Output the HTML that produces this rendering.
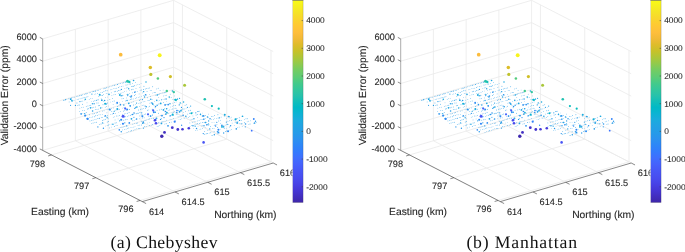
<!DOCTYPE html>
<html><head><meta charset="utf-8"><title>Validation Error</title>
<style>
html,body{margin:0;padding:0;background:#fff;}
body{width:685px;height:252px;overflow:hidden;}
svg{display:block;font-family:"Liberation Sans",sans-serif;text-rendering:geometricPrecision;}
</style></head><body>
<svg width="685" height="252" viewBox="0 0 685 252">
<rect width="685" height="252" fill="#fff"/>
<defs><linearGradient id="cb" x1="0" y1="0" x2="0" y2="1"><stop offset="0" stop-color="#f9fb15"/><stop offset="0.03" stop-color="#f6ef20"/><stop offset="0.06" stop-color="#f5e327"/><stop offset="0.09" stop-color="#f9d62d"/><stop offset="0.12" stop-color="#feca33"/><stop offset="0.16" stop-color="#febe3c"/><stop offset="0.19" stop-color="#f1ba37"/><stop offset="0.22" stop-color="#debc2a"/><stop offset="0.25" stop-color="#c8c129"/><stop offset="0.28" stop-color="#afc637"/><stop offset="0.31" stop-color="#94ca4a"/><stop offset="0.34" stop-color="#77cc60"/><stop offset="0.38" stop-color="#5ccc76"/><stop offset="0.41" stop-color="#44ca8a"/><stop offset="0.44" stop-color="#34c79c"/><stop offset="0.47" stop-color="#28c2ab"/><stop offset="0.5" stop-color="#12beb9"/><stop offset="0.53" stop-color="#01b9c6"/><stop offset="0.56" stop-color="#0cb3d3"/><stop offset="0.59" stop-color="#1aacdd"/><stop offset="0.62" stop-color="#21a3e3"/><stop offset="0.66" stop-color="#269ae9"/><stop offset="0.69" stop-color="#2c90f0"/><stop offset="0.72" stop-color="#2e85f8"/><stop offset="0.75" stop-color="#347afd"/><stop offset="0.78" stop-color="#3f6efe"/><stop offset="0.81" stop-color="#4562fc"/><stop offset="0.84" stop-color="#4757f7"/><stop offset="0.88" stop-color="#484cef"/><stop offset="0.91" stop-color="#4741e5"/><stop offset="0.94" stop-color="#4536d5"/><stop offset="0.97" stop-color="#422ebf"/><stop offset="1" stop-color="#3e26a8"/></linearGradient></defs>
<g transform="translate(0,0)">
<g><line x1="142.3" y1="201.6" x2="42.7" y2="150.4" stroke="#eaeaea" stroke-width="0.8"/><line x1="175.03" y1="191.95" x2="75.42" y2="140.75" stroke="#eaeaea" stroke-width="0.8"/><line x1="207.75" y1="182.3" x2="108.15" y2="131.1" stroke="#eaeaea" stroke-width="0.8"/><line x1="240.47" y1="172.65" x2="140.88" y2="121.45" stroke="#eaeaea" stroke-width="0.8"/><line x1="273.2" y1="163" x2="173.6" y2="111.8" stroke="#eaeaea" stroke-width="0.8"/><line x1="140.09" y1="200.46" x2="270.99" y2="161.86" stroke="#eaeaea" stroke-width="0.8"/><line x1="95.82" y1="177.71" x2="226.72" y2="139.11" stroke="#eaeaea" stroke-width="0.8"/><line x1="51.55" y1="154.95" x2="182.45" y2="116.35" stroke="#eaeaea" stroke-width="0.8"/><line x1="75.42" y1="140.75" x2="75.42" y2="29.25" stroke="#eaeaea" stroke-width="0.8"/><line x1="108.15" y1="131.1" x2="108.15" y2="19.6" stroke="#eaeaea" stroke-width="0.8"/><line x1="140.88" y1="121.45" x2="140.88" y2="9.95" stroke="#eaeaea" stroke-width="0.8"/><line x1="173.6" y1="111.8" x2="173.6" y2="0.3" stroke="#eaeaea" stroke-width="0.8"/><line x1="42.7" y1="150.4" x2="173.6" y2="111.8" stroke="#eaeaea" stroke-width="0.8"/><line x1="42.7" y1="128.1" x2="173.6" y2="89.5" stroke="#eaeaea" stroke-width="0.8"/><line x1="42.7" y1="105.8" x2="173.6" y2="67.2" stroke="#eaeaea" stroke-width="0.8"/><line x1="42.7" y1="83.5" x2="173.6" y2="44.9" stroke="#eaeaea" stroke-width="0.8"/><line x1="42.7" y1="61.2" x2="173.6" y2="22.6" stroke="#eaeaea" stroke-width="0.8"/><line x1="42.7" y1="38.9" x2="173.6" y2="0.3" stroke="#eaeaea" stroke-width="0.8"/><line x1="270.99" y1="161.86" x2="270.99" y2="50.36" stroke="#eaeaea" stroke-width="0.8"/><line x1="226.72" y1="139.11" x2="226.72" y2="27.61" stroke="#eaeaea" stroke-width="0.8"/><line x1="182.45" y1="116.35" x2="182.45" y2="4.85" stroke="#eaeaea" stroke-width="0.8"/><line x1="273.2" y1="163" x2="173.6" y2="111.8" stroke="#eaeaea" stroke-width="0.8"/><line x1="273.2" y1="140.7" x2="173.6" y2="89.5" stroke="#eaeaea" stroke-width="0.8"/><line x1="273.2" y1="118.4" x2="173.6" y2="67.2" stroke="#eaeaea" stroke-width="0.8"/><line x1="273.2" y1="96.1" x2="173.6" y2="44.9" stroke="#eaeaea" stroke-width="0.8"/><line x1="273.2" y1="73.8" x2="173.6" y2="22.6" stroke="#eaeaea" stroke-width="0.8"/><line x1="273.2" y1="51.5" x2="173.6" y2="0.3" stroke="#eaeaea" stroke-width="0.8"/></g>
<g><line x1="42.7" y1="150.4" x2="42.7" y2="38.9" stroke="#3a3a3a" stroke-width="0.42"/><line x1="42.7" y1="150.4" x2="142.3" y2="201.6" stroke="#3a3a3a" stroke-width="0.6"/><line x1="142.3" y1="201.6" x2="273.2" y2="163" stroke="#3a3a3a" stroke-width="0.6"/><line x1="42.7" y1="150.4" x2="39.82" y2="148.92" stroke="#3a3a3a" stroke-width="0.6"/><line x1="42.7" y1="128.1" x2="39.82" y2="126.62" stroke="#3a3a3a" stroke-width="0.6"/><line x1="42.7" y1="105.8" x2="39.82" y2="104.32" stroke="#3a3a3a" stroke-width="0.6"/><line x1="42.7" y1="83.5" x2="39.82" y2="82.02" stroke="#3a3a3a" stroke-width="0.6"/><line x1="42.7" y1="61.2" x2="39.82" y2="59.72" stroke="#3a3a3a" stroke-width="0.6"/><line x1="42.7" y1="38.9" x2="39.82" y2="37.42" stroke="#3a3a3a" stroke-width="0.6"/><line x1="140.09" y1="200.46" x2="136.63" y2="201.48" stroke="#3a3a3a" stroke-width="0.6"/><line x1="95.82" y1="177.71" x2="92.37" y2="178.72" stroke="#3a3a3a" stroke-width="0.6"/><line x1="51.55" y1="154.95" x2="48.1" y2="155.97" stroke="#3a3a3a" stroke-width="0.6"/><line x1="142.3" y1="201.6" x2="146.14" y2="203.58" stroke="#3a3a3a" stroke-width="0.6"/><line x1="175.03" y1="191.95" x2="178.87" y2="193.93" stroke="#3a3a3a" stroke-width="0.6"/><line x1="207.75" y1="182.3" x2="211.59" y2="184.28" stroke="#3a3a3a" stroke-width="0.6"/><line x1="240.47" y1="172.65" x2="244.32" y2="174.63" stroke="#3a3a3a" stroke-width="0.6"/><line x1="273.2" y1="163" x2="277.04" y2="164.98" stroke="#3a3a3a" stroke-width="0.6"/></g>
<g><circle cx="63.83" cy="100.25" r="0.54" fill="#259de7"/><circle cx="65.42" cy="99.63" r="0.54" fill="#249de6"/><circle cx="66.88" cy="99.41" r="0.36" fill="#259de7"/><circle cx="68.4" cy="98.87" r="0.37" fill="#259de7"/><circle cx="69.99" cy="98.59" r="0.34" fill="#259ce7"/><circle cx="71.45" cy="97.92" r="0.48" fill="#249de6"/><circle cx="73" cy="97.71" r="0.4" fill="#259ce7"/><circle cx="74.64" cy="97.17" r="0.38" fill="#259ce7"/><circle cx="76.24" cy="96.47" r="0.39" fill="#249de6"/><circle cx="77.93" cy="96.28" r="0.42" fill="#259ce7"/><circle cx="79.57" cy="95.68" r="0.48" fill="#259de7"/><circle cx="81.21" cy="95.16" r="0.52" fill="#259de7"/><circle cx="82.73" cy="94.86" r="0.43" fill="#259ce7"/><circle cx="84.39" cy="94.32" r="0.43" fill="#259ce7"/><circle cx="86.01" cy="93.8" r="0.55" fill="#259ce7"/><circle cx="87.66" cy="93.44" r="0.41" fill="#259ce7"/><circle cx="89.28" cy="92.86" r="0.36" fill="#259ce7"/><circle cx="90.73" cy="92.33" r="0.36" fill="#259de7"/><circle cx="92.24" cy="91.87" r="0.43" fill="#259de7"/><circle cx="93.82" cy="91.48" r="0.51" fill="#259de7"/><circle cx="95.49" cy="91.06" r="0.52" fill="#259ce7"/><circle cx="97.18" cy="90.39" r="0.37" fill="#259de7"/><circle cx="98.68" cy="90.19" r="0.39" fill="#259ce7"/><circle cx="100.12" cy="89.57" r="0.41" fill="#259de7"/><circle cx="103.33" cy="88.79" r="0.34" fill="#259ce7"/><circle cx="105" cy="88.28" r="0.52" fill="#259ce7"/><circle cx="106.65" cy="87.71" r="0.47" fill="#259ce7"/><circle cx="108.11" cy="87.19" r="0.38" fill="#259de7"/><circle cx="109.59" cy="86.79" r="0.36" fill="#259de7"/><circle cx="111.06" cy="86.36" r="0.34" fill="#259de7"/><circle cx="112.72" cy="85.81" r="0.41" fill="#259de7"/><circle cx="114.26" cy="85.33" r="0.52" fill="#259de7"/><circle cx="115.96" cy="84.97" r="0.35" fill="#259ce7"/><circle cx="117.49" cy="84.46" r="0.51" fill="#259de7"/><circle cx="118.97" cy="83.87" r="0.36" fill="#249de6"/><circle cx="120.55" cy="83.61" r="0.45" fill="#259ce7"/><circle cx="122.25" cy="83.09" r="0.41" fill="#259de7"/><circle cx="123.73" cy="82.72" r="0.45" fill="#259ce7"/><circle cx="125.38" cy="82.1" r="0.55" fill="#259de7"/><circle cx="127.04" cy="81.4" r="0.51" fill="#249ee6"/><circle cx="128.67" cy="81.29" r="0.34" fill="#259ce7"/><circle cx="69.14" cy="101.88" r="0.41" fill="#259de7"/><circle cx="70.69" cy="99.2" r="0.88" fill="#20a5e3"/><circle cx="72.29" cy="101.07" r="0.35" fill="#259ce7"/><circle cx="73.99" cy="100.45" r="0.39" fill="#249de6"/><circle cx="77.14" cy="99.67" r="0.4" fill="#259ce7"/><circle cx="78.44" cy="99.11" r="0.39" fill="#259de7"/><circle cx="80.08" cy="98.87" r="0.41" fill="#259ce7"/><circle cx="81.97" cy="98.24" r="0.4" fill="#259ce7"/><circle cx="83.14" cy="97.85" r="0.42" fill="#259ce7"/><circle cx="84.94" cy="97.43" r="0.49" fill="#259ce7"/><circle cx="86.89" cy="96.99" r="0.41" fill="#259ce7"/><circle cx="87.97" cy="96.28" r="0.35" fill="#259ce7"/><circle cx="91.89" cy="94.06" r="0.62" fill="#22a2e4"/><circle cx="94.32" cy="94.23" r="0.33" fill="#249ee6"/><circle cx="95.78" cy="93.95" r="0.36" fill="#259de7"/><circle cx="97.4" cy="93.42" r="0.42" fill="#249de6"/><circle cx="100.93" cy="92.47" r="0.35" fill="#259de7"/><circle cx="102.39" cy="92.37" r="0.46" fill="#259ce7"/><circle cx="103.96" cy="91.5" r="0.44" fill="#259de7"/><circle cx="105.68" cy="90.75" r="0.43" fill="#249ee6"/><circle cx="107.08" cy="90.72" r="0.47" fill="#259ce7"/><circle cx="110.28" cy="89.84" r="0.32" fill="#259ce7"/><circle cx="111.89" cy="89.28" r="0.36" fill="#259de7"/><circle cx="113.26" cy="88.76" r="0.35" fill="#259de7"/><circle cx="115.04" cy="88.33" r="0.39" fill="#259de7"/><circle cx="116.76" cy="88.23" r="0.38" fill="#259ce7"/><circle cx="118.39" cy="87.46" r="0.47" fill="#259de7"/><circle cx="119.89" cy="86.83" r="0.31" fill="#259de7"/><circle cx="121.57" cy="86.61" r="0.47" fill="#259ce7"/><circle cx="123.06" cy="86.07" r="0.33" fill="#259ce7"/><circle cx="126.01" cy="85" r="0.49" fill="#259de7"/><circle cx="127.61" cy="84.82" r="0.34" fill="#259ce7"/><circle cx="129.1" cy="84.19" r="0.38" fill="#259de7"/><circle cx="130.6" cy="83.98" r="0.45" fill="#259ce7"/><circle cx="132.35" cy="83.44" r="0.37" fill="#259ce7"/><circle cx="133.58" cy="80.47" r="0.82" fill="#1fa5e2"/><circle cx="135.64" cy="82.66" r="0.4" fill="#259ce7"/><circle cx="70.58" cy="105.33" r="0.56" fill="#269ae8"/><circle cx="71.93" cy="100.7" r="0.85" fill="#1ca9e0"/><circle cx="76.96" cy="103.05" r="0.49" fill="#259ce7"/><circle cx="79.95" cy="101.56" r="0.67" fill="#249ee6"/><circle cx="81.26" cy="101.2" r="0.35" fill="#249de6"/><circle cx="82.79" cy="101.09" r="0.4" fill="#259ce7"/><circle cx="84.63" cy="100.57" r="0.3" fill="#259ce7"/><circle cx="89.19" cy="99.41" r="0.38" fill="#259ce7"/><circle cx="90.55" cy="98.69" r="0.32" fill="#259de7"/><circle cx="92.15" cy="98.35" r="0.35" fill="#259ce7"/><circle cx="98.83" cy="96.39" r="0.45" fill="#259de7"/><circle cx="100.42" cy="95.73" r="0.31" fill="#259de7"/><circle cx="102.12" cy="95.38" r="0.5" fill="#259ce7"/><circle cx="103.42" cy="94.65" r="0.38" fill="#249ee6"/><circle cx="106.21" cy="93.63" r="0.39" fill="#249ee6"/><circle cx="107.89" cy="93.46" r="0.32" fill="#259de7"/><circle cx="111.28" cy="92.77" r="0.38" fill="#259ce7"/><circle cx="114.27" cy="91.7" r="0.43" fill="#259de7"/><circle cx="115.65" cy="91.36" r="0.49" fill="#259ce7"/><circle cx="117.3" cy="91.13" r="0.44" fill="#259ce7"/><circle cx="118.75" cy="90.55" r="0.47" fill="#259ce7"/><circle cx="120.04" cy="90.36" r="0.33" fill="#259be7"/><circle cx="121.39" cy="89.44" r="0.67" fill="#259ce7"/><circle cx="124.89" cy="88.41" r="0.33" fill="#259de7"/><circle cx="126.75" cy="87.9" r="0.42" fill="#249de6"/><circle cx="127.86" cy="87.59" r="0.36" fill="#259de7"/><circle cx="131.75" cy="86.56" r="0.44" fill="#259de7"/><circle cx="133.1" cy="86.27" r="0.59" fill="#249de6"/><circle cx="134.54" cy="85.78" r="0.44" fill="#259ce7"/><circle cx="136.23" cy="84.98" r="0.34" fill="#249ee6"/><circle cx="137.88" cy="84.62" r="0.36" fill="#259de7"/><circle cx="139.28" cy="84.54" r="0.38" fill="#259ce7"/><circle cx="141.05" cy="83.7" r="0.33" fill="#249de7"/><circle cx="75.45" cy="105.43" r="0.63" fill="#249fe6"/><circle cx="77.3" cy="105.67" r="0.36" fill="#259de7"/><circle cx="79.07" cy="104.9" r="0.52" fill="#249de6"/><circle cx="82.47" cy="104.35" r="0.49" fill="#259ce7"/><circle cx="85.29" cy="99.34" r="0.81" fill="#1baade"/><circle cx="87" cy="102.82" r="0.31" fill="#259de7"/><circle cx="91.71" cy="101.48" r="0.32" fill="#259de7"/><circle cx="93.57" cy="101.16" r="0.43" fill="#259ce7"/><circle cx="94.93" cy="100.78" r="0.47" fill="#259ce7"/><circle cx="96.6" cy="100.24" r="0.56" fill="#259ce7"/><circle cx="98.06" cy="99.78" r="0.5" fill="#259ce7"/><circle cx="99.72" cy="94.73" r="0.98" fill="#1aacdd"/><circle cx="101.16" cy="98.84" r="0.32" fill="#259ce7"/><circle cx="105.73" cy="97.4" r="0.32" fill="#259de7"/><circle cx="107.4" cy="96.96" r="0.33" fill="#259ce7"/><circle cx="108.98" cy="94.43" r="0.81" fill="#21a4e3"/><circle cx="111.91" cy="95.38" r="0.32" fill="#249de6"/><circle cx="113.9" cy="94.86" r="0.38" fill="#249de6"/><circle cx="115.25" cy="94.39" r="0.41" fill="#249de6"/><circle cx="118.44" cy="93.59" r="0.3" fill="#259de7"/><circle cx="120.17" cy="93.21" r="0.48" fill="#259ce7"/><circle cx="121.54" cy="92.99" r="0.32" fill="#259ce7"/><circle cx="123.01" cy="92.41" r="0.36" fill="#259ce7"/><circle cx="124.28" cy="91.66" r="0.34" fill="#249de6"/><circle cx="126.6" cy="90.99" r="0.31" fill="#249ee6"/><circle cx="128.69" cy="88.77" r="0.68" fill="#20a4e3"/><circle cx="129.58" cy="90.13" r="0.34" fill="#249de6"/><circle cx="131.42" cy="89.72" r="0.48" fill="#259de7"/><circle cx="133" cy="89.22" r="0.47" fill="#259de7"/><circle cx="134.77" cy="92.21" r="0.81" fill="#2c90f0"/><circle cx="135.99" cy="88.6" r="0.42" fill="#259ce7"/><circle cx="139.34" cy="87.57" r="0.33" fill="#259ce7"/><circle cx="140.84" cy="87.02" r="0.31" fill="#259de7"/><circle cx="143.94" cy="86.18" r="0.49" fill="#259ce7"/><circle cx="146" cy="82.04" r="0.75" fill="#1ca9df"/><circle cx="79.83" cy="108.16" r="0.34" fill="#259de7"/><circle cx="81.81" cy="107.65" r="0.43" fill="#259ce7"/><circle cx="83.31" cy="107.16" r="0.33" fill="#259de7"/><circle cx="86.29" cy="106.38" r="0.43" fill="#259ce7"/><circle cx="87.94" cy="105.89" r="0.42" fill="#259ce7"/><circle cx="89.54" cy="105.39" r="0.33" fill="#259ce7"/><circle cx="90.76" cy="105.2" r="0.46" fill="#259ce7"/><circle cx="92.37" cy="103.77" r="0.65" fill="#23a0e5"/><circle cx="94.1" cy="103.75" r="0.68" fill="#249ee6"/><circle cx="96.94" cy="103.03" r="0.49" fill="#259de7"/><circle cx="98.37" cy="102.91" r="0.33" fill="#259ce7"/><circle cx="101.82" cy="100.17" r="0.85" fill="#21a3e3"/><circle cx="103.24" cy="101.19" r="0.35" fill="#259de7"/><circle cx="104.65" cy="100.45" r="0.73" fill="#249de6"/><circle cx="107.75" cy="100.18" r="0.34" fill="#259ce7"/><circle cx="109.79" cy="99.4" r="0.45" fill="#259de7"/><circle cx="112.61" cy="98.42" r="0.44" fill="#249de6"/><circle cx="117.15" cy="102.77" r="0.92" fill="#2e86f8"/><circle cx="120.44" cy="95.91" r="0.37" fill="#249ee6"/><circle cx="121.77" cy="95.71" r="0.72" fill="#249de6"/><circle cx="122.92" cy="95.21" r="0.48" fill="#249de6"/><circle cx="126.67" cy="94.2" r="0.32" fill="#249de6"/><circle cx="127.74" cy="95.61" r="0.63" fill="#2896eb"/><circle cx="129.69" cy="93.31" r="0.38" fill="#249de6"/><circle cx="131.43" cy="96.02" r="0.83" fill="#2b90ef"/><circle cx="132.66" cy="92.83" r="0.39" fill="#259ce7"/><circle cx="134.42" cy="91.99" r="0.32" fill="#259de7"/><circle cx="135.64" cy="91.8" r="0.45" fill="#259ce7"/><circle cx="137.21" cy="91.3" r="0.4" fill="#259de7"/><circle cx="140.15" cy="90.14" r="0.44" fill="#249ee6"/><circle cx="141.69" cy="89.92" r="0.46" fill="#259de7"/><circle cx="143.51" cy="89.42" r="0.48" fill="#259ce7"/><circle cx="145.23" cy="89.02" r="0.4" fill="#259de7"/><circle cx="146.47" cy="88.42" r="0.41" fill="#249de6"/><circle cx="148.07" cy="88.15" r="0.47" fill="#259de7"/><circle cx="149.37" cy="87.9" r="0.45" fill="#259ce7"/><circle cx="152.64" cy="86.76" r="0.47" fill="#259ce7"/><circle cx="79.73" cy="111.42" r="0.35" fill="#259de7"/><circle cx="81.08" cy="113.9" r="0.8" fill="#2b92ee"/><circle cx="82.78" cy="110.35" r="0.46" fill="#249de6"/><circle cx="84.35" cy="110.27" r="0.38" fill="#259ce7"/><circle cx="85.13" cy="115.35" r="0.93" fill="#2e86f7"/><circle cx="87.38" cy="108.98" r="0.49" fill="#249de6"/><circle cx="88.56" cy="108.77" r="0.44" fill="#259de7"/><circle cx="90.6" cy="108.5" r="0.34" fill="#259be7"/><circle cx="91.98" cy="107.86" r="0.5" fill="#259ce7"/><circle cx="93.58" cy="107.13" r="0.38" fill="#249de6"/><circle cx="95.24" cy="106.95" r="0.45" fill="#259ce7"/><circle cx="98.32" cy="105.74" r="0.46" fill="#249de6"/><circle cx="99.47" cy="105.58" r="0.49" fill="#259ce7"/><circle cx="102.98" cy="104.66" r="0.47" fill="#259ce7"/><circle cx="104.31" cy="103.84" r="0.35" fill="#249ee6"/><circle cx="106.24" cy="103.98" r="0.66" fill="#259ce7"/><circle cx="107.51" cy="103.08" r="0.49" fill="#249de7"/><circle cx="110.38" cy="102.03" r="0.3" fill="#249de7"/><circle cx="112.38" cy="101.66" r="0.32" fill="#259de7"/><circle cx="114.16" cy="100.93" r="0.46" fill="#249de6"/><circle cx="119.85" cy="95.05" r="0.97" fill="#1aacdd"/><circle cx="121.93" cy="98.82" r="0.4" fill="#259de7"/><circle cx="123.22" cy="98.5" r="0.4" fill="#259de7"/><circle cx="126.42" cy="97.9" r="0.37" fill="#259ce7"/><circle cx="127.84" cy="94.45" r="0.67" fill="#1ea7e1"/><circle cx="129.54" cy="96.46" r="0.4" fill="#249de6"/><circle cx="130.91" cy="96.88" r="0.8" fill="#269ae9"/><circle cx="134.4" cy="95.44" r="0.47" fill="#259ce7"/><circle cx="135.48" cy="94.64" r="0.35" fill="#249ee6"/><circle cx="139.12" cy="93.9" r="0.43" fill="#259ce7"/><circle cx="142.26" cy="92.96" r="0.36" fill="#259de7"/><circle cx="143.62" cy="91.63" r="0.74" fill="#23a0e5"/><circle cx="145.54" cy="94.83" r="0.72" fill="#2a92ee"/><circle cx="147.04" cy="91.4" r="0.45" fill="#259de7"/><circle cx="150.17" cy="90.63" r="0.35" fill="#259ce7"/><circle cx="151.61" cy="90.4" r="0.31" fill="#259ce7"/><circle cx="156.3" cy="88.88" r="0.38" fill="#259de7"/><circle cx="158.16" cy="88.28" r="0.43" fill="#259ce7"/><circle cx="81.33" cy="113.94" r="0.47" fill="#259de7"/><circle cx="82.96" cy="113.75" r="0.33" fill="#259ce7"/><circle cx="85.04" cy="115.94" r="0.77" fill="#2a92ee"/><circle cx="86.26" cy="112.63" r="0.49" fill="#259de7"/><circle cx="87.65" cy="118.93" r="1.12" fill="#2f82fa"/><circle cx="90.43" cy="107.87" r="0.77" fill="#1da9e0"/><circle cx="92.6" cy="110.95" r="0.78" fill="#259ce7"/><circle cx="95.31" cy="109.68" r="0.44" fill="#249de6"/><circle cx="96.96" cy="109.38" r="0.46" fill="#259ce7"/><circle cx="98.58" cy="109.11" r="0.39" fill="#259ce7"/><circle cx="101.99" cy="107.87" r="0.46" fill="#249de7"/><circle cx="105.19" cy="107.19" r="0.34" fill="#259ce7"/><circle cx="106.61" cy="106.43" r="0.41" fill="#259de7"/><circle cx="108.39" cy="105.99" r="0.32" fill="#249de6"/><circle cx="109.81" cy="109.31" r="0.86" fill="#2c8ef1"/><circle cx="113.11" cy="104.56" r="0.39" fill="#259de7"/><circle cx="116.18" cy="103.82" r="0.34" fill="#259ce7"/><circle cx="117.51" cy="103.22" r="0.49" fill="#249de6"/><circle cx="119.36" cy="102.86" r="0.32" fill="#259de7"/><circle cx="120.41" cy="104.57" r="0.76" fill="#2994ed"/><circle cx="122.44" cy="101.5" r="0.31" fill="#249ee6"/><circle cx="125.63" cy="100.89" r="0.43" fill="#259de7"/><circle cx="127.04" cy="100.52" r="0.71" fill="#259ce7"/><circle cx="129.12" cy="100.04" r="0.32" fill="#259ce7"/><circle cx="130.68" cy="99.46" r="0.44" fill="#259de7"/><circle cx="131.81" cy="98.95" r="0.49" fill="#249de7"/><circle cx="133.75" cy="98.88" r="0.32" fill="#259ce7"/><circle cx="135.29" cy="98.3" r="0.4" fill="#259ce7"/><circle cx="136.5" cy="97.84" r="0.44" fill="#259ce7"/><circle cx="138.22" cy="97.3" r="0.35" fill="#259ce7"/><circle cx="139.78" cy="96.94" r="0.36" fill="#259ce7"/><circle cx="141.35" cy="96.21" r="0.34" fill="#249de6"/><circle cx="143.39" cy="95.73" r="0.37" fill="#259de7"/><circle cx="144.87" cy="95.39" r="0.31" fill="#259ce7"/><circle cx="146.2" cy="95" r="0.46" fill="#259ce7"/><circle cx="149.46" cy="94.29" r="0.34" fill="#259ce7"/><circle cx="152.51" cy="93.03" r="0.32" fill="#259de7"/><circle cx="154.12" cy="92.47" r="0.44" fill="#259de7"/><circle cx="155.23" cy="92.37" r="0.45" fill="#259ce7"/><circle cx="160.11" cy="90.42" r="0.4" fill="#249ee6"/><circle cx="163.15" cy="90" r="0.37" fill="#259ce7"/><circle cx="84.7" cy="113.62" r="0.65" fill="#1fa6e2"/><circle cx="86.56" cy="115.49" r="0.32" fill="#249de6"/><circle cx="89.56" cy="114.69" r="0.47" fill="#259de7"/><circle cx="92.94" cy="113.88" r="0.49" fill="#259ce7"/><circle cx="94.35" cy="113.64" r="0.46" fill="#259be8"/><circle cx="96.36" cy="112.95" r="0.4" fill="#259ce7"/><circle cx="97.33" cy="112.49" r="0.41" fill="#259ce7"/><circle cx="99.34" cy="111.83" r="0.33" fill="#259de7"/><circle cx="100.59" cy="107.93" r="0.71" fill="#1caadf"/><circle cx="102.61" cy="111.05" r="0.41" fill="#259ce7"/><circle cx="104.07" cy="110.86" r="0.36" fill="#259be7"/><circle cx="105.14" cy="103.65" r="1.01" fill="#0fb2d5"/><circle cx="107.05" cy="109.59" r="0.36" fill="#259de7"/><circle cx="108.65" cy="109.14" r="0.41" fill="#259de7"/><circle cx="109.98" cy="109.9" r="0.72" fill="#2699e9"/><circle cx="111.44" cy="108.43" r="0.34" fill="#259ce7"/><circle cx="113.46" cy="107.97" r="0.35" fill="#259ce7"/><circle cx="117.61" cy="106.54" r="0.47" fill="#259ce7"/><circle cx="119" cy="105.97" r="0.35" fill="#259de7"/><circle cx="120.71" cy="105.72" r="0.37" fill="#259ce7"/><circle cx="123.8" cy="104.9" r="0.74" fill="#259ce7"/><circle cx="127.14" cy="109.52" r="0.97" fill="#2e86f8"/><circle cx="130.17" cy="105.87" r="0.89" fill="#2b91ef"/><circle cx="131.87" cy="102.27" r="0.36" fill="#249de6"/><circle cx="133.42" cy="101.85" r="0.33" fill="#259de7"/><circle cx="139.39" cy="100.15" r="0.48" fill="#259ce7"/><circle cx="140.72" cy="99.35" r="0.41" fill="#249ee6"/><circle cx="142.46" cy="99.6" r="0.63" fill="#259be8"/><circle cx="144.53" cy="97.04" r="0.71" fill="#21a3e3"/><circle cx="147.56" cy="97.73" r="0.42" fill="#259ce7"/><circle cx="150.33" cy="96.43" r="0.4" fill="#249ee6"/><circle cx="155.23" cy="95.19" r="0.36" fill="#249de6"/><circle cx="156.61" cy="95.03" r="0.37" fill="#259ce7"/><circle cx="158.12" cy="94.45" r="0.46" fill="#259de7"/><circle cx="159.58" cy="93.97" r="0.43" fill="#249de7"/><circle cx="160.96" cy="93.58" r="0.43" fill="#249de6"/><circle cx="162.95" cy="93.02" r="0.45" fill="#259de7"/><circle cx="164.34" cy="92.75" r="0.46" fill="#259de7"/><circle cx="165.79" cy="92.29" r="0.44" fill="#259de7"/><circle cx="86.4" cy="118.72" r="0.46" fill="#259de7"/><circle cx="87.88" cy="118.21" r="0.41" fill="#249de6"/><circle cx="89.58" cy="117.68" r="0.31" fill="#249de6"/><circle cx="91.03" cy="117.33" r="0.35" fill="#259de7"/><circle cx="92.63" cy="116.92" r="0.44" fill="#259de7"/><circle cx="94.28" cy="116.76" r="0.46" fill="#259ce7"/><circle cx="95.74" cy="115.79" r="0.49" fill="#249de6"/><circle cx="97.48" cy="115.66" r="0.44" fill="#259ce7"/><circle cx="99" cy="114.82" r="0.35" fill="#249ee6"/><circle cx="100.68" cy="114.81" r="0.35" fill="#259ce7"/><circle cx="102.25" cy="114.3" r="0.36" fill="#259ce7"/><circle cx="105.28" cy="115.87" r="0.79" fill="#2a93ee"/><circle cx="106.9" cy="112.8" r="0.33" fill="#259de7"/><circle cx="111.78" cy="111.4" r="0.44" fill="#259de7"/><circle cx="113.49" cy="113.34" r="0.71" fill="#2994ed"/><circle cx="115.05" cy="110.14" r="0.45" fill="#249ee6"/><circle cx="116.18" cy="110.03" r="0.34" fill="#259de7"/><circle cx="117.82" cy="109.74" r="0.47" fill="#259ce7"/><circle cx="119.26" cy="109.25" r="0.44" fill="#259ce7"/><circle cx="122.29" cy="108.12" r="0.31" fill="#249de6"/><circle cx="124.12" cy="107.67" r="0.48" fill="#259de7"/><circle cx="125.28" cy="107.23" r="0.36" fill="#259de7"/><circle cx="128.8" cy="103.34" r="0.86" fill="#1ea7e1"/><circle cx="130.47" cy="106.2" r="0.33" fill="#259be7"/><circle cx="133.61" cy="105.03" r="0.49" fill="#259ce7"/><circle cx="135.26" cy="104.55" r="0.34" fill="#259ce7"/><circle cx="136.57" cy="103.11" r="0.63" fill="#23a0e5"/><circle cx="138.78" cy="103.55" r="0.33" fill="#259ce7"/><circle cx="140.08" cy="102.97" r="0.45" fill="#259ce7"/><circle cx="141.47" cy="102.59" r="0.32" fill="#259de7"/><circle cx="143.13" cy="101.86" r="0.36" fill="#249de6"/><circle cx="144.86" cy="101.67" r="0.37" fill="#259ce7"/><circle cx="148.01" cy="100.63" r="0.44" fill="#259de7"/><circle cx="149.13" cy="100.27" r="0.41" fill="#259ce7"/><circle cx="150.77" cy="99.2" r="0.73" fill="#249fe6"/><circle cx="152.08" cy="99.39" r="0.36" fill="#259de7"/><circle cx="157.4" cy="94.99" r="0.73" fill="#1ea8e1"/><circle cx="158.79" cy="97.6" r="0.35" fill="#259ce7"/><circle cx="163.63" cy="95.96" r="0.4" fill="#259de7"/><circle cx="165.12" cy="95.63" r="0.39" fill="#259de7"/><circle cx="166.68" cy="95.18" r="0.34" fill="#259de7"/><circle cx="170.24" cy="94.22" r="0.4" fill="#259ce7"/><circle cx="89.92" cy="120.88" r="0.44" fill="#259de7"/><circle cx="91.61" cy="120.66" r="0.41" fill="#259ce7"/><circle cx="93.02" cy="120.11" r="0.48" fill="#259ce7"/><circle cx="94.93" cy="119.41" r="0.35" fill="#249de6"/><circle cx="96.07" cy="119.13" r="0.32" fill="#259de7"/><circle cx="97.89" cy="118.56" r="0.47" fill="#249de6"/><circle cx="99.36" cy="118.28" r="0.5" fill="#259ce7"/><circle cx="101.27" cy="117.41" r="0.41" fill="#249de6"/><circle cx="102.6" cy="117.29" r="0.35" fill="#259ce7"/><circle cx="104.33" cy="116.7" r="0.39" fill="#259ce7"/><circle cx="105.99" cy="116.39" r="0.48" fill="#259ce7"/><circle cx="107.27" cy="115.77" r="0.47" fill="#259de7"/><circle cx="110.86" cy="114.62" r="0.42" fill="#249de7"/><circle cx="112.32" cy="114.11" r="0.35" fill="#249de6"/><circle cx="114.17" cy="111.36" r="0.63" fill="#20a5e2"/><circle cx="115.67" cy="113.33" r="0.38" fill="#259ce7"/><circle cx="117.33" cy="109.07" r="1" fill="#1baade"/><circle cx="118.41" cy="112.3" r="0.31" fill="#249de6"/><circle cx="120.26" cy="111.63" r="0.4" fill="#249ee6"/><circle cx="123.51" cy="111.12" r="0.48" fill="#259ce7"/><circle cx="124.82" cy="110.72" r="0.39" fill="#259de7"/><circle cx="126.62" cy="110.46" r="0.3" fill="#259ce7"/><circle cx="127.79" cy="109.61" r="0.43" fill="#249de7"/><circle cx="129.36" cy="109.48" r="0.49" fill="#259ce7"/><circle cx="134.77" cy="108.38" r="0.61" fill="#259be8"/><circle cx="135.78" cy="107.5" r="0.65" fill="#259de7"/><circle cx="137.45" cy="106.99" r="0.31" fill="#259ce7"/><circle cx="139.38" cy="106.47" r="0.35" fill="#259ce7"/><circle cx="142.2" cy="105.43" r="0.41" fill="#259de7"/><circle cx="143.86" cy="105.08" r="0.41" fill="#259ce7"/><circle cx="145.16" cy="106.1" r="0.62" fill="#2798ea"/><circle cx="149.84" cy="103.14" r="0.35" fill="#249de7"/><circle cx="151.32" cy="102.77" r="0.63" fill="#259ce7"/><circle cx="152.35" cy="103.31" r="0.74" fill="#2699e9"/><circle cx="154.76" cy="101.61" r="0.33" fill="#249de6"/><circle cx="156.75" cy="100.35" r="0.78" fill="#23a0e5"/><circle cx="158.04" cy="100.98" r="0.31" fill="#259ce7"/><circle cx="159.71" cy="100.59" r="0.35" fill="#259ce7"/><circle cx="161.5" cy="99.8" r="0.5" fill="#259de7"/><circle cx="163.04" cy="99.31" r="0.33" fill="#259de7"/><circle cx="164.58" cy="99.05" r="0.41" fill="#259ce7"/><circle cx="166.09" cy="98.91" r="0.74" fill="#259be8"/><circle cx="169.21" cy="97.87" r="0.36" fill="#259ce7"/><circle cx="171.16" cy="97.36" r="0.45" fill="#259ce7"/><circle cx="172.46" cy="91.02" r="0.82" fill="#14b0d8"/><circle cx="174.28" cy="95.9" r="0.37" fill="#249de6"/><circle cx="91.47" cy="123.45" r="0.35" fill="#259de7"/><circle cx="93.05" cy="122.99" r="0.41" fill="#249de7"/><circle cx="94.93" cy="122.42" r="0.45" fill="#249ee6"/><circle cx="96.38" cy="122.19" r="0.44" fill="#259de7"/><circle cx="102.75" cy="120.42" r="0.47" fill="#259ce7"/><circle cx="104" cy="119.86" r="0.48" fill="#259de7"/><circle cx="105.61" cy="119.24" r="0.44" fill="#249de6"/><circle cx="107.15" cy="117.76" r="0.64" fill="#22a1e4"/><circle cx="108.6" cy="118.81" r="0.35" fill="#259ce7"/><circle cx="113.24" cy="117.13" r="0.34" fill="#249de7"/><circle cx="114.58" cy="116.85" r="0.32" fill="#259ce7"/><circle cx="116.77" cy="116.1" r="0.48" fill="#259de7"/><circle cx="118.04" cy="115.91" r="0.31" fill="#259ce7"/><circle cx="119.54" cy="115.43" r="0.44" fill="#259de7"/><circle cx="121.18" cy="119.84" r="1.03" fill="#2d8af5"/><circle cx="122.59" cy="114.35" r="0.38" fill="#249de6"/><circle cx="124.39" cy="113.92" r="0.42" fill="#259de7"/><circle cx="125.87" cy="113.43" r="0.32" fill="#259de7"/><circle cx="127.35" cy="113.2" r="0.44" fill="#259ce7"/><circle cx="129.07" cy="112.5" r="0.45" fill="#259de7"/><circle cx="132.36" cy="114.5" r="0.77" fill="#2b92ee"/><circle cx="134.02" cy="112.98" r="0.77" fill="#2895ec"/><circle cx="136.8" cy="107.05" r="0.82" fill="#1da8e0"/><circle cx="138.54" cy="109.95" r="0.46" fill="#259ce7"/><circle cx="140.51" cy="109.22" r="0.43" fill="#249de7"/><circle cx="142.02" cy="108.93" r="0.46" fill="#259ce7"/><circle cx="143.54" cy="108.31" r="0.37" fill="#259de7"/><circle cx="145.32" cy="108.27" r="0.44" fill="#259be8"/><circle cx="146.28" cy="106.77" r="0.74" fill="#249fe6"/><circle cx="148.17" cy="106.98" r="0.3" fill="#259ce7"/><circle cx="149.46" cy="106.29" r="0.44" fill="#249de6"/><circle cx="152.85" cy="104.18" r="0.82" fill="#22a2e4"/><circle cx="154.02" cy="105.36" r="0.37" fill="#259ce7"/><circle cx="155.57" cy="106.51" r="0.78" fill="#2896ec"/><circle cx="157.12" cy="105.34" r="0.76" fill="#2699ea"/><circle cx="158.83" cy="103.96" r="0.48" fill="#259ce7"/><circle cx="160.6" cy="103.36" r="0.39" fill="#259de7"/><circle cx="163.55" cy="102.69" r="0.43" fill="#259ce7"/><circle cx="165.12" cy="104.93" r="0.89" fill="#2b91ef"/><circle cx="166.46" cy="101.5" r="0.32" fill="#259de7"/><circle cx="168.16" cy="104.6" r="0.85" fill="#2c8ff1"/><circle cx="169.26" cy="96.92" r="0.76" fill="#1baade"/><circle cx="172.29" cy="99.51" r="0.36" fill="#249de6"/><circle cx="173.97" cy="99.28" r="0.36" fill="#259de7"/><circle cx="175.84" cy="98.95" r="0.34" fill="#259ce7"/><circle cx="177.25" cy="98.54" r="0.37" fill="#259ce7"/><circle cx="97.86" cy="126.94" r="0.67" fill="#2895ec"/><circle cx="99.34" cy="124.35" r="0.46" fill="#259de7"/><circle cx="101.03" cy="124.07" r="0.48" fill="#259ce7"/><circle cx="102.46" cy="122.9" r="0.61" fill="#239fe5"/><circle cx="103.79" cy="123.11" r="0.48" fill="#259ce7"/><circle cx="107.23" cy="121.98" r="0.43" fill="#249de6"/><circle cx="108.46" cy="121.55" r="0.45" fill="#249de6"/><circle cx="115.05" cy="119.96" r="0.4" fill="#259ce7"/><circle cx="118.09" cy="118.93" r="0.32" fill="#259de7"/><circle cx="122.94" cy="123.68" r="1.05" fill="#2e84f9"/><circle cx="124.21" cy="116.99" r="0.45" fill="#259de7"/><circle cx="125.72" cy="116.74" r="0.41" fill="#259ce7"/><circle cx="127.41" cy="116.34" r="0.4" fill="#259ce7"/><circle cx="128.88" cy="115.83" r="0.43" fill="#259ce7"/><circle cx="130.67" cy="115.22" r="0.47" fill="#259de7"/><circle cx="131.97" cy="114.83" r="0.4" fill="#259de7"/><circle cx="133.41" cy="114.45" r="0.41" fill="#259de7"/><circle cx="135.02" cy="113.87" r="0.35" fill="#259de7"/><circle cx="136.46" cy="113.66" r="0.49" fill="#259ce7"/><circle cx="138" cy="113.27" r="0.6" fill="#259be7"/><circle cx="139.95" cy="112.42" r="0.48" fill="#259de7"/><circle cx="141.71" cy="112.87" r="0.61" fill="#269be8"/><circle cx="142.35" cy="116.18" r="1" fill="#2d8bf4"/><circle cx="147.44" cy="110.21" r="0.45" fill="#249de7"/><circle cx="148.84" cy="109.9" r="0.34" fill="#259ce7"/><circle cx="152.24" cy="109.15" r="0.48" fill="#259ce7"/><circle cx="153.84" cy="112.26" r="0.96" fill="#2d8df2"/><circle cx="155.11" cy="107.71" r="0.45" fill="#249ee6"/><circle cx="160.67" cy="103.4" r="0.93" fill="#1da8e0"/><circle cx="166.43" cy="104.68" r="0.34" fill="#259de7"/><circle cx="169.97" cy="103.7" r="0.74" fill="#249de6"/><circle cx="172.8" cy="103.1" r="0.37" fill="#259ce7"/><circle cx="174.57" cy="102.46" r="0.4" fill="#259ce7"/><circle cx="176.06" cy="101.98" r="0.37" fill="#259ce7"/><circle cx="177.52" cy="99.2" r="0.64" fill="#20a4e3"/><circle cx="179.54" cy="98.3" r="0.65" fill="#1fa6e2"/><circle cx="103.41" cy="128.26" r="0.71" fill="#2896eb"/><circle cx="105.55" cy="126.02" r="0.31" fill="#259ce7"/><circle cx="107.18" cy="125.59" r="0.45" fill="#259ce7"/><circle cx="108.59" cy="124.91" r="0.49" fill="#259de7"/><circle cx="109.9" cy="124.5" r="0.31" fill="#259ce7"/><circle cx="111.87" cy="124.1" r="0.41" fill="#259de7"/><circle cx="115.08" cy="122.89" r="0.49" fill="#249de6"/><circle cx="116.42" cy="122.87" r="0.46" fill="#259ce7"/><circle cx="119.67" cy="120.77" r="0.64" fill="#23a0e5"/><circle cx="123.13" cy="120.78" r="0.34" fill="#259ce7"/><circle cx="123.86" cy="120.12" r="0.38" fill="#249de6"/><circle cx="125.8" cy="119.76" r="0.47" fill="#249de6"/><circle cx="127.11" cy="119.63" r="0.45" fill="#259ce7"/><circle cx="129.31" cy="122.9" r="0.89" fill="#2d8df2"/><circle cx="133.38" cy="117.32" r="0.49" fill="#249de6"/><circle cx="134.71" cy="117.18" r="0.38" fill="#259de7"/><circle cx="136.6" cy="119" r="0.81" fill="#2995ec"/><circle cx="139.69" cy="115.89" r="0.37" fill="#259ce7"/><circle cx="141.28" cy="114.99" r="0.43" fill="#249ee6"/><circle cx="142.86" cy="115" r="0.47" fill="#259ce7"/><circle cx="144.53" cy="114.59" r="0.35" fill="#259ce7"/><circle cx="145.58" cy="113.99" r="0.4" fill="#259ce7"/><circle cx="150.57" cy="116.08" r="0.89" fill="#2c8ff1"/><circle cx="153.66" cy="111.47" r="0.44" fill="#259de7"/><circle cx="155.27" cy="112.19" r="0.81" fill="#2699e9"/><circle cx="157.09" cy="110.73" r="0.39" fill="#259de7"/><circle cx="159.68" cy="109.88" r="0.43" fill="#259ce7"/><circle cx="161.28" cy="109.3" r="0.47" fill="#259de7"/><circle cx="164.42" cy="108.58" r="0.38" fill="#259ce7"/><circle cx="165.51" cy="111.54" r="0.78" fill="#2c8ef1"/><circle cx="170.33" cy="107.04" r="0.33" fill="#259be8"/><circle cx="172.27" cy="106.19" r="0.38" fill="#259ce7"/><circle cx="173.76" cy="105.48" r="0.39" fill="#249de7"/><circle cx="175.24" cy="105.48" r="0.49" fill="#259ce7"/><circle cx="176.97" cy="110.51" r="0.84" fill="#2e86f8"/><circle cx="179.21" cy="104.92" r="0.58" fill="#269be8"/><circle cx="179.86" cy="104.12" r="0.34" fill="#259be7"/><circle cx="181.85" cy="103.22" r="0.33" fill="#259de7"/><circle cx="109.45" cy="127.92" r="0.43" fill="#259ce7"/><circle cx="111.24" cy="127.08" r="0.33" fill="#249de6"/><circle cx="112.92" cy="124.32" r="0.76" fill="#1fa5e2"/><circle cx="114.31" cy="126.55" r="0.44" fill="#259ce7"/><circle cx="116.04" cy="125.68" r="0.33" fill="#249de6"/><circle cx="117.24" cy="125.36" r="0.38" fill="#249de7"/><circle cx="119.29" cy="129.91" r="0.81" fill="#2d89f5"/><circle cx="120.74" cy="124.53" r="0.34" fill="#259de7"/><circle cx="123.5" cy="124.01" r="0.3" fill="#259be7"/><circle cx="124.8" cy="122.87" r="0.66" fill="#249de6"/><circle cx="131.45" cy="118.84" r="0.88" fill="#1fa6e2"/><circle cx="132.85" cy="120.78" r="0.45" fill="#259de7"/><circle cx="134.65" cy="120.36" r="0.32" fill="#259de7"/><circle cx="136.06" cy="119.66" r="0.37" fill="#249de6"/><circle cx="139.39" cy="118.87" r="0.36" fill="#249de6"/><circle cx="142.69" cy="118" r="0.44" fill="#259de7"/><circle cx="144.12" cy="117.81" r="0.42" fill="#259ce7"/><circle cx="148.8" cy="116.29" r="0.39" fill="#259ce7"/><circle cx="150.68" cy="115.65" r="0.44" fill="#259ce7"/><circle cx="152.49" cy="115.06" r="0.5" fill="#249de6"/><circle cx="155.58" cy="119.42" r="0.87" fill="#2d88f6"/><circle cx="158.56" cy="113.26" r="0.48" fill="#259de7"/><circle cx="161.94" cy="115.71" r="0.85" fill="#2c90f0"/><circle cx="163.48" cy="109.91" r="0.89" fill="#20a4e3"/><circle cx="164.87" cy="111.84" r="0.36" fill="#259be8"/><circle cx="166.65" cy="108.77" r="0.83" fill="#20a5e2"/><circle cx="168.16" cy="110.71" r="0.35" fill="#259ce7"/><circle cx="169.51" cy="109.92" r="0.42" fill="#249de6"/><circle cx="171.12" cy="109.78" r="0.31" fill="#259ce7"/><circle cx="172.77" cy="109.01" r="0.49" fill="#249de6"/><circle cx="174.15" cy="108.76" r="0.32" fill="#259ce7"/><circle cx="175.94" cy="108.28" r="0.49" fill="#259de7"/><circle cx="180.3" cy="102.9" r="0.71" fill="#1caadf"/><circle cx="181.46" cy="107.42" r="0.61" fill="#2798ea"/><circle cx="183.54" cy="102.09" r="0.78" fill="#1baade"/><circle cx="185.05" cy="105.28" r="0.44" fill="#249de6"/><circle cx="186.72" cy="104.77" r="0.4" fill="#249de6"/><circle cx="120.36" cy="127.53" r="0.34" fill="#249de6"/><circle cx="121.96" cy="127.16" r="0.45" fill="#259de7"/><circle cx="123.19" cy="126.89" r="0.32" fill="#259ce7"/><circle cx="124.86" cy="126.43" r="0.43" fill="#259de7"/><circle cx="126.73" cy="125.93" r="0.68" fill="#259de7"/><circle cx="132.82" cy="124.15" r="0.42" fill="#259ce7"/><circle cx="134.28" cy="123.71" r="0.34" fill="#259ce7"/><circle cx="136.24" cy="123.24" r="0.44" fill="#259ce7"/><circle cx="137.29" cy="123.02" r="0.4" fill="#259be8"/><circle cx="141.85" cy="121.34" r="0.49" fill="#259de7"/><circle cx="143.36" cy="122.16" r="0.83" fill="#2797ea"/><circle cx="145.05" cy="120.49" r="0.41" fill="#259de7"/><circle cx="146.62" cy="120" r="0.33" fill="#259de7"/><circle cx="148.18" cy="119.47" r="0.35" fill="#259de7"/><circle cx="149.56" cy="118.89" r="0.47" fill="#249de6"/><circle cx="151.52" cy="118.59" r="0.31" fill="#259de7"/><circle cx="153.31" cy="118.19" r="0.47" fill="#259ce7"/><circle cx="156.04" cy="117.01" r="0.32" fill="#259de7"/><circle cx="160.84" cy="115.65" r="0.34" fill="#249de6"/><circle cx="162.43" cy="115.46" r="0.4" fill="#259ce7"/><circle cx="164.01" cy="117.57" r="0.64" fill="#2a93ed"/><circle cx="165.84" cy="114.16" r="0.8" fill="#249ee6"/><circle cx="168.67" cy="113.17" r="0.35" fill="#249ee6"/><circle cx="170.24" cy="115.66" r="0.72" fill="#2a92ee"/><circle cx="172.05" cy="112.77" r="0.32" fill="#259ce7"/><circle cx="173.29" cy="112.29" r="0.44" fill="#259ce7"/><circle cx="174.73" cy="111.62" r="0.37" fill="#259de7"/><circle cx="176.76" cy="112.48" r="0.79" fill="#2798ea"/><circle cx="178.38" cy="110.55" r="0.42" fill="#259de7"/><circle cx="179.67" cy="110.53" r="0.3" fill="#259ce7"/><circle cx="181.29" cy="109.62" r="0.44" fill="#249de7"/><circle cx="182.93" cy="108.98" r="0.51" fill="#259de7"/><circle cx="184.78" cy="108.9" r="0.36" fill="#259ce7"/><circle cx="186.06" cy="108.24" r="0.32" fill="#259de7"/><circle cx="187.47" cy="107.29" r="0.64" fill="#239fe5"/><circle cx="189.35" cy="107.29" r="0.31" fill="#259de7"/><circle cx="190.65" cy="106.07" r="0.59" fill="#23a0e5"/><circle cx="121.24" cy="131.8" r="0.75" fill="#2798ea"/><circle cx="122.66" cy="129.9" r="0.39" fill="#249ee6"/><circle cx="124.44" cy="129.69" r="0.37" fill="#259de7"/><circle cx="126.06" cy="129.06" r="0.4" fill="#249de6"/><circle cx="127.6" cy="128.64" r="0.4" fill="#249ee6"/><circle cx="128.83" cy="128" r="0.42" fill="#249ee6"/><circle cx="130.96" cy="127.67" r="0.31" fill="#249de7"/><circle cx="132.05" cy="127.53" r="0.31" fill="#259ce7"/><circle cx="133.83" cy="127.08" r="0.38" fill="#259ce7"/><circle cx="135.01" cy="126.51" r="0.32" fill="#259de7"/><circle cx="138.05" cy="125.6" r="0.45" fill="#259de7"/><circle cx="139.66" cy="125.12" r="0.35" fill="#259de7"/><circle cx="141.3" cy="125.07" r="0.49" fill="#259be7"/><circle cx="142.74" cy="123.26" r="0.83" fill="#23a0e5"/><circle cx="143.99" cy="123.7" r="0.35" fill="#249de6"/><circle cx="147.46" cy="123.01" r="0.34" fill="#259de7"/><circle cx="149.24" cy="122.32" r="0.3" fill="#249de6"/><circle cx="154.08" cy="121.07" r="0.37" fill="#259ce7"/><circle cx="156.62" cy="118.3" r="0.81" fill="#21a2e4"/><circle cx="160.52" cy="119.41" r="0.64" fill="#259be8"/><circle cx="161.58" cy="118.68" r="0.46" fill="#259ce7"/><circle cx="166.91" cy="112.67" r="0.92" fill="#19addc"/><circle cx="169.91" cy="116.2" r="0.37" fill="#259de7"/><circle cx="171.25" cy="115.74" r="0.31" fill="#259de7"/><circle cx="173.28" cy="115.34" r="0.38" fill="#249de7"/><circle cx="174.7" cy="121.66" r="1.1" fill="#2f82fa"/><circle cx="176.25" cy="114.19" r="0.42" fill="#249ee6"/><circle cx="177.57" cy="113.89" r="0.34" fill="#249de6"/><circle cx="179.54" cy="111.87" r="0.86" fill="#22a2e4"/><circle cx="180.98" cy="110.7" r="0.87" fill="#20a5e2"/><circle cx="183.21" cy="115.32" r="0.72" fill="#2a92ee"/><circle cx="183.67" cy="112.32" r="0.34" fill="#259ce7"/><circle cx="185.38" cy="111.58" r="0.41" fill="#249de6"/><circle cx="188.81" cy="110.78" r="0.48" fill="#259de7"/><circle cx="190.41" cy="110.3" r="0.48" fill="#259ce7"/><circle cx="127" cy="132.42" r="0.37" fill="#259be7"/><circle cx="128.82" cy="131.7" r="0.38" fill="#259ce7"/><circle cx="130.43" cy="131.02" r="0.36" fill="#259de7"/><circle cx="131.57" cy="130.72" r="0.49" fill="#259de7"/><circle cx="133.3" cy="130.19" r="0.33" fill="#259ce7"/><circle cx="135.01" cy="129.58" r="0.37" fill="#249de7"/><circle cx="136.82" cy="128.86" r="0.41" fill="#249de6"/><circle cx="138.57" cy="128.69" r="0.43" fill="#259de7"/><circle cx="139.85" cy="128.47" r="0.45" fill="#259ce7"/><circle cx="143.45" cy="128.07" r="0.65" fill="#269ae9"/><circle cx="144.8" cy="126.52" r="0.46" fill="#249ee6"/><circle cx="146.4" cy="126.37" r="0.37" fill="#259de7"/><circle cx="149.54" cy="125.5" r="0.42" fill="#259ce7"/><circle cx="151.17" cy="125.11" r="0.37" fill="#259ce7"/><circle cx="152.36" cy="124.51" r="0.44" fill="#259de7"/><circle cx="155.26" cy="123.61" r="0.31" fill="#259de7"/><circle cx="158.76" cy="122.69" r="0.49" fill="#259de7"/><circle cx="162.04" cy="121.8" r="0.47" fill="#259de7"/><circle cx="163.67" cy="121.22" r="0.3" fill="#259de7"/><circle cx="165.01" cy="121.15" r="0.34" fill="#259ce7"/><circle cx="166.76" cy="120.19" r="0.38" fill="#249de6"/><circle cx="170.1" cy="119.2" r="0.34" fill="#249de7"/><circle cx="171.83" cy="119.21" r="0.31" fill="#259ce7"/><circle cx="173.27" cy="118.37" r="0.48" fill="#249de7"/><circle cx="178.07" cy="116.82" r="0.44" fill="#259de7"/><circle cx="179.89" cy="116.54" r="0.3" fill="#259de7"/><circle cx="181.04" cy="116" r="0.49" fill="#259de7"/><circle cx="182.75" cy="115.58" r="0.38" fill="#259ce7"/><circle cx="187.7" cy="114.1" r="0.42" fill="#259de7"/><circle cx="189.62" cy="113.27" r="0.48" fill="#249ee6"/><circle cx="191.01" cy="113.25" r="0.48" fill="#259de7"/><circle cx="192.83" cy="112.72" r="0.46" fill="#259ce7"/><circle cx="195.81" cy="112.81" r="0.57" fill="#269ae9"/><circle cx="197.92" cy="111.5" r="0.62" fill="#259ce7"/><circle cx="199.07" cy="111.22" r="0.45" fill="#259ce7"/><circle cx="157.13" cy="126.42" r="0.39" fill="#259de7"/><circle cx="158.28" cy="126.06" r="0.38" fill="#259ce7"/><circle cx="159.83" cy="125.41" r="0.35" fill="#259de7"/><circle cx="161.44" cy="123.48" r="0.87" fill="#22a2e4"/><circle cx="164.87" cy="124.06" r="0.36" fill="#259de7"/><circle cx="166.18" cy="123.84" r="0.49" fill="#259ce7"/><circle cx="168.01" cy="125.82" r="0.9" fill="#2a93ee"/><circle cx="169.52" cy="122.56" r="0.49" fill="#249de7"/><circle cx="171.21" cy="122.09" r="0.4" fill="#259de7"/><circle cx="172.68" cy="114.67" r="1.11" fill="#0ab4d2"/><circle cx="175.49" cy="120.85" r="0.3" fill="#259de7"/><circle cx="179.02" cy="119.71" r="0.32" fill="#249de6"/><circle cx="180.68" cy="119.46" r="0.36" fill="#259ce7"/><circle cx="181.84" cy="118.85" r="0.32" fill="#249de6"/><circle cx="184.12" cy="118.57" r="0.43" fill="#259ce7"/><circle cx="185.84" cy="116.22" r="0.77" fill="#21a3e3"/><circle cx="186.85" cy="117.24" r="0.33" fill="#249ee6"/><circle cx="188.58" cy="117.35" r="0.41" fill="#259ce7"/><circle cx="189.81" cy="116.49" r="0.38" fill="#249de7"/><circle cx="192.95" cy="115.93" r="0.37" fill="#259ce7"/><circle cx="196.08" cy="114.99" r="0.48" fill="#259ce7"/><circle cx="197.69" cy="114.47" r="0.43" fill="#259de7"/><circle cx="200.35" cy="113.4" r="0.36" fill="#259de7"/><circle cx="202.24" cy="112.96" r="0.32" fill="#259de7"/><circle cx="203.64" cy="115.94" r="0.84" fill="#2c90f0"/><circle cx="181.63" cy="125.28" r="0.68" fill="#2b91ef"/><circle cx="191.09" cy="119.44" r="0.4" fill="#259de7"/><circle cx="192.81" cy="119.15" r="0.36" fill="#259ce7"/><circle cx="193.95" cy="118.78" r="0.68" fill="#259be8"/><circle cx="197.45" cy="117.46" r="0.38" fill="#249de6"/><circle cx="200.47" cy="114.44" r="0.76" fill="#20a5e3"/><circle cx="202.51" cy="116.07" r="0.74" fill="#249de6"/><circle cx="203.77" cy="119.23" r="0.72" fill="#2c8ff1"/><circle cx="205.21" cy="115.5" r="0.46" fill="#259ce7"/><circle cx="208.51" cy="114.12" r="0.37" fill="#249de6"/><circle cx="189.86" cy="122.91" r="0.46" fill="#259de7"/><circle cx="192.27" cy="122.37" r="0.45" fill="#259ce7"/><circle cx="194.15" cy="121.67" r="0.32" fill="#259de7"/><circle cx="195.82" cy="121.24" r="0.36" fill="#259de7"/><circle cx="197.42" cy="120.92" r="0.37" fill="#259ce7"/><circle cx="199.08" cy="120.42" r="0.37" fill="#259ce7"/><circle cx="200.68" cy="119.71" r="0.32" fill="#249de6"/><circle cx="202.03" cy="119.5" r="0.47" fill="#259ce7"/><circle cx="203.96" cy="118.95" r="0.43" fill="#259ce7"/><circle cx="205.13" cy="118.6" r="0.46" fill="#259ce7"/><circle cx="207.53" cy="116.96" r="0.76" fill="#23a0e5"/><circle cx="208.5" cy="117.75" r="0.33" fill="#259ce7"/><circle cx="210.03" cy="118.64" r="0.74" fill="#2797eb"/><circle cx="211.51" cy="116.38" r="0.42" fill="#249de6"/><circle cx="212.95" cy="116.37" r="0.41" fill="#259ce7"/><circle cx="214.61" cy="115.47" r="0.45" fill="#249de6"/><circle cx="217.91" cy="114.64" r="0.49" fill="#259de7"/><circle cx="189.99" cy="126.26" r="0.37" fill="#259de7"/><circle cx="191.82" cy="125.49" r="0.39" fill="#249de6"/><circle cx="192.97" cy="125.69" r="0.77" fill="#259be8"/><circle cx="194.65" cy="124.88" r="0.34" fill="#259ce7"/><circle cx="196.04" cy="124.35" r="0.47" fill="#259de7"/><circle cx="197.64" cy="123.8" r="0.47" fill="#259de7"/><circle cx="199.53" cy="123.54" r="0.43" fill="#259ce7"/><circle cx="200.83" cy="122.95" r="0.34" fill="#259ce7"/><circle cx="202.34" cy="122.51" r="0.42" fill="#259ce7"/><circle cx="203.9" cy="122.26" r="0.3" fill="#259ce7"/><circle cx="205.17" cy="122.45" r="0.72" fill="#2699e9"/><circle cx="206.86" cy="124.84" r="0.82" fill="#2c8ef1"/><circle cx="208.61" cy="120.9" r="0.68" fill="#259ce7"/><circle cx="211.76" cy="119.64" r="0.32" fill="#249de7"/><circle cx="213.35" cy="119.32" r="0.37" fill="#259de7"/><circle cx="214.69" cy="118.72" r="0.32" fill="#249de6"/><circle cx="216.43" cy="118.64" r="0.31" fill="#259ce7"/><circle cx="218.16" cy="117.9" r="0.49" fill="#259de7"/><circle cx="219.5" cy="117.82" r="0.67" fill="#269be8"/><circle cx="221.16" cy="117.07" r="0.39" fill="#259ce7"/><circle cx="224.32" cy="116.04" r="0.48" fill="#259ce7"/><circle cx="193.67" cy="128.47" r="0.31" fill="#259ce7"/><circle cx="195.18" cy="126.14" r="0.61" fill="#21a3e4"/><circle cx="196.54" cy="128.52" r="0.71" fill="#2798ea"/><circle cx="198.03" cy="126.8" r="0.32" fill="#259de7"/><circle cx="201.35" cy="125.89" r="0.31" fill="#259de7"/><circle cx="202.85" cy="125.56" r="0.42" fill="#259ce7"/><circle cx="204.01" cy="125.77" r="0.69" fill="#269ae8"/><circle cx="205.76" cy="122.46" r="0.71" fill="#20a5e3"/><circle cx="207.61" cy="124.17" r="0.4" fill="#259de7"/><circle cx="208.64" cy="123.57" r="0.48" fill="#259de7"/><circle cx="212.01" cy="122.58" r="0.34" fill="#259de7"/><circle cx="214.05" cy="122.2" r="0.32" fill="#259de7"/><circle cx="215.58" cy="126.03" r="0.77" fill="#2d8cf3"/><circle cx="216.79" cy="122.37" r="0.59" fill="#2798ea"/><circle cx="218.76" cy="120.99" r="0.45" fill="#259ce7"/><circle cx="220.55" cy="120.43" r="0.34" fill="#259ce7"/><circle cx="224.76" cy="114.87" r="1" fill="#1aabdd"/><circle cx="226.67" cy="118.3" r="0.37" fill="#249ee6"/><circle cx="228.34" cy="116.46" r="0.65" fill="#22a2e4"/><circle cx="229.09" cy="116.8" r="0.79" fill="#249fe5"/><circle cx="231.11" cy="117.16" r="0.39" fill="#259de7"/><circle cx="195.8" cy="130.53" r="0.4" fill="#259de7"/><circle cx="197.62" cy="130.06" r="0.33" fill="#259de7"/><circle cx="199.17" cy="129.71" r="0.3" fill="#259de7"/><circle cx="200.81" cy="129.05" r="0.42" fill="#249de6"/><circle cx="202.46" cy="128.6" r="0.43" fill="#249de6"/><circle cx="205.82" cy="127.79" r="0.31" fill="#259de7"/><circle cx="208.74" cy="124.87" r="0.61" fill="#21a4e3"/><circle cx="210.55" cy="126.52" r="0.4" fill="#259ce7"/><circle cx="214.23" cy="125.37" r="0.42" fill="#259de7"/><circle cx="215.13" cy="124.71" r="0.36" fill="#249de6"/><circle cx="216.96" cy="124.56" r="0.42" fill="#259ce7"/><circle cx="218.41" cy="129.67" r="1" fill="#2e86f8"/><circle cx="220.27" cy="123.62" r="0.39" fill="#259ce7"/><circle cx="221.91" cy="125.41" r="0.85" fill="#2a93ed"/><circle cx="226.36" cy="122.09" r="0.6" fill="#259be8"/><circle cx="227.95" cy="121.2" r="0.42" fill="#259ce7"/><circle cx="229.72" cy="120.73" r="0.4" fill="#259ce7"/><circle cx="231.36" cy="120.41" r="0.49" fill="#259ce7"/><circle cx="236.18" cy="118.75" r="0.49" fill="#259de7"/><circle cx="237.66" cy="118.34" r="0.42" fill="#259ce7"/><circle cx="239.25" cy="117.73" r="0.46" fill="#249de6"/><circle cx="203.27" cy="133.59" r="0.69" fill="#2895ec"/><circle cx="204.66" cy="131.4" r="0.47" fill="#259ce7"/><circle cx="207.8" cy="130.59" r="0.35" fill="#259ce7"/><circle cx="209.72" cy="128.89" r="0.68" fill="#23a0e5"/><circle cx="212.71" cy="128.61" r="0.45" fill="#249de6"/><circle cx="214.04" cy="128.55" r="0.36" fill="#259ce7"/><circle cx="217.67" cy="127.41" r="0.48" fill="#259de7"/><circle cx="222.13" cy="126.21" r="0.47" fill="#259ce7"/><circle cx="223.8" cy="125.33" r="0.45" fill="#259de7"/><circle cx="225.13" cy="125.04" r="0.38" fill="#249ee6"/><circle cx="227.18" cy="124.31" r="0.68" fill="#249ee6"/><circle cx="228.57" cy="124.25" r="0.37" fill="#259ce7"/><circle cx="230.61" cy="125.81" r="0.71" fill="#2995ec"/><circle cx="232.11" cy="123.12" r="0.34" fill="#259de7"/><circle cx="235.14" cy="122.24" r="0.41" fill="#259de7"/><circle cx="237.19" cy="122.26" r="0.64" fill="#259be8"/><circle cx="238.07" cy="121.52" r="0.34" fill="#259ce7"/><circle cx="239.5" cy="120.45" r="0.61" fill="#249ee6"/><circle cx="241.13" cy="120.49" r="0.44" fill="#259de7"/><circle cx="242.51" cy="116.24" r="0.86" fill="#1ca9df"/><circle cx="244.31" cy="119.57" r="0.37" fill="#259ce7"/><circle cx="246" cy="118.86" r="0.47" fill="#249ee6"/><circle cx="247.32" cy="118.76" r="0.44" fill="#259de7"/><circle cx="204.74" cy="134.15" r="0.49" fill="#249de6"/><circle cx="206.21" cy="133.74" r="0.48" fill="#259de7"/><circle cx="207.69" cy="133.4" r="0.48" fill="#259de7"/><circle cx="209.38" cy="132.99" r="0.35" fill="#259de7"/><circle cx="210.82" cy="132.72" r="0.45" fill="#259ce7"/><circle cx="214.11" cy="131.66" r="0.48" fill="#259de7"/><circle cx="217.39" cy="131.82" r="0.72" fill="#2699e9"/><circle cx="218.47" cy="132.45" r="0.92" fill="#2994ed"/><circle cx="220.18" cy="129.51" r="0.32" fill="#249de6"/><circle cx="223.63" cy="126.82" r="0.86" fill="#20a5e2"/><circle cx="224.27" cy="128.38" r="0.49" fill="#259de7"/><circle cx="226.15" cy="128.33" r="0.32" fill="#259be7"/><circle cx="228.05" cy="131.27" r="1.01" fill="#2d8df2"/><circle cx="229.27" cy="127.03" r="0.45" fill="#259ce7"/><circle cx="234.16" cy="125.59" r="0.31" fill="#249de7"/><circle cx="235.56" cy="119.28" r="1.11" fill="#13b0d7"/><circle cx="237.17" cy="123.08" r="0.87" fill="#21a3e4"/><circle cx="239.17" cy="123.82" r="0.35" fill="#249ee6"/><circle cx="241.25" cy="123.7" r="0.55" fill="#259de7"/><circle cx="242.65" cy="123.53" r="0.3" fill="#259be7"/><circle cx="244.39" cy="122.74" r="0.49" fill="#259de7"/><circle cx="245.58" cy="124.06" r="0.75" fill="#2896eb"/><circle cx="247.19" cy="121.84" r="0.35" fill="#259ce7"/><circle cx="248.72" cy="121.2" r="0.4" fill="#249de6"/><circle cx="250.36" cy="120.86" r="0.36" fill="#259de7"/><circle cx="255.49" cy="121.23" r="0.65" fill="#2796eb"/><circle cx="211.39" cy="135.76" r="0.35" fill="#259ce7"/><circle cx="212.64" cy="135.6" r="0.44" fill="#259be8"/><circle cx="214.32" cy="134.8" r="0.74" fill="#259de7"/><circle cx="217.33" cy="133.83" r="0.35" fill="#259ce7"/><circle cx="218.94" cy="133.46" r="0.37" fill="#259ce7"/><circle cx="221.95" cy="126.89" r="0.91" fill="#14b0d8"/><circle cx="223.68" cy="133.02" r="0.66" fill="#2699ea"/><circle cx="225.42" cy="131.54" r="0.48" fill="#259ce7"/><circle cx="226.78" cy="130.98" r="0.46" fill="#259de7"/><circle cx="230" cy="130.09" r="0.37" fill="#259de7"/><circle cx="231.59" cy="129.59" r="0.38" fill="#249de6"/><circle cx="236.27" cy="128.88" r="0.79" fill="#259be8"/><circle cx="237.54" cy="127.6" r="0.34" fill="#249de6"/><circle cx="239.11" cy="127.08" r="0.39" fill="#249ee6"/><circle cx="242.16" cy="126.37" r="0.35" fill="#259de7"/><circle cx="245.28" cy="126.81" r="0.59" fill="#2798ea"/><circle cx="248.84" cy="124.42" r="0.35" fill="#249de7"/><circle cx="250.02" cy="123.96" r="0.47" fill="#249de6"/><circle cx="253.54" cy="123.16" r="0.34" fill="#249de6"/><circle cx="254.64" cy="123.1" r="0.82" fill="#259be8"/><circle cx="256.44" cy="122.23" r="0.39" fill="#259de7"/><circle cx="120.7" cy="54.7" r="1.85" fill="#fcbc3d"/><circle cx="159.7" cy="55.2" r="1.95" fill="#f7f41c"/><circle cx="150.3" cy="67.6" r="1.75" fill="#dcbd29"/><circle cx="150.8" cy="74.4" r="1.6" fill="#c0c32d"/><circle cx="157.9" cy="78.5" r="1.3" fill="#54cc7c"/><circle cx="170.4" cy="76.6" r="1.6" fill="#d0bf27"/><circle cx="184.6" cy="85.3" r="1.5" fill="#a9c73a"/><circle cx="127.5" cy="81.3" r="1.5" fill="#28c3aa"/><circle cx="129.3" cy="82" r="1.2" fill="#16bfb7"/><circle cx="166.8" cy="91" r="1.2" fill="#3fca8e"/><circle cx="173.8" cy="92.1" r="1.2" fill="#33c69d"/><circle cx="176" cy="100" r="1" fill="#03bbc3"/><circle cx="204.8" cy="99.3" r="1.3" fill="#21c1b1"/><circle cx="211.9" cy="106.1" r="1.1" fill="#0bbdbd"/><circle cx="218.7" cy="108.7" r="1.1" fill="#0bbdbd"/><circle cx="175.2" cy="99.8" r="1" fill="#05b6ce"/><circle cx="191.5" cy="113.2" r="1" fill="#01b8c8"/><circle cx="161.8" cy="136.3" r="1.7" fill="#3f29af"/><circle cx="164.5" cy="132.4" r="1.4" fill="#4230c3"/><circle cx="172.3" cy="127.7" r="1.4" fill="#4433cd"/><circle cx="177.8" cy="129.5" r="1.4" fill="#4433cd"/><circle cx="182.5" cy="129.2" r="1.3" fill="#4537d6"/><circle cx="188.8" cy="128.2" r="1.3" fill="#463bdd"/><circle cx="123.1" cy="116.2" r="1.5" fill="#4854f5"/><circle cx="155" cy="120.3" r="1.3" fill="#484aee"/><circle cx="156" cy="123.2" r="1.3" fill="#484aee"/><circle cx="125.2" cy="108.6" r="1.1" fill="#465efb"/><circle cx="153.2" cy="110.4" r="1.1" fill="#465efb"/><circle cx="148" cy="114.3" r="1.1" fill="#4562fc"/><circle cx="203.6" cy="142.4" r="1.3" fill="#4854f5"/><circle cx="253.8" cy="119" r="0.9" fill="#2f82fa"/><circle cx="251.7" cy="130.7" r="0.9" fill="#3b72ff"/></g>
<g font-size="9.2" fill="#262626" stroke="#262626" stroke-width="0.1"><text x="36.9" y="151.6" text-anchor="end">-4000</text><text x="36.9" y="129.3" text-anchor="end">-2000</text><text x="36.9" y="107" text-anchor="end">0</text><text x="36.9" y="84.7" text-anchor="end">2000</text><text x="36.9" y="62.4" text-anchor="end">4000</text><text x="36.9" y="40.1" text-anchor="end">6000</text><text x="133.59" y="212.16" text-anchor="end">796</text><text x="89.32" y="189.41" text-anchor="end">797</text><text x="45.05" y="166.65" text-anchor="end">798</text><text x="148.9" y="214.5">614</text><text x="181.62" y="204.85">614.5</text><text x="214.35" y="195.2">615</text><text x="247.07" y="185.55">615.5</text><text x="279.8" y="175.9">616</text></g>
<g font-size="10.3" fill="#262626" stroke="#262626" stroke-width="0.12">
<text x="31.1" y="214.9">Easting (km)</text>
<text x="214.2" y="217.6">Northing (km)</text>
<text transform="translate(7.8,95.3) rotate(-90)" text-anchor="middle">Validation Error (ppm)</text>
</g>
<rect x="292.6" y="0.4" width="10.5" height="202.1" fill="url(#cb)" stroke="#262626" stroke-opacity="0.3" stroke-width="0.6"/>
<rect x="291.7" y="0" width="0.7" height="203" fill="#fff"/>
<line x1="292.3" y1="0.4" x2="303.4" y2="0.4" stroke="#262626" stroke-opacity="0.45" stroke-width="0.8"/>
<g font-size="8.35" fill="#262626" stroke="#262626" stroke-width="0.08"><line x1="301.6" y1="20.6" x2="303" y2="20.6" stroke="#444" stroke-width="0.6"/><text x="306.2" y="23.4">4000</text><line x1="301.6" y1="48.3" x2="303" y2="48.3" stroke="#444" stroke-width="0.6"/><text x="306.2" y="51.1">3000</text><line x1="301.6" y1="76" x2="303" y2="76" stroke="#444" stroke-width="0.6"/><text x="306.2" y="78.8">2000</text><line x1="301.6" y1="103.7" x2="303" y2="103.7" stroke="#444" stroke-width="0.6"/><text x="306.2" y="106.5">1000</text><line x1="301.6" y1="131.4" x2="303" y2="131.4" stroke="#444" stroke-width="0.6"/><text x="306.2" y="134.2">0</text><line x1="301.6" y1="159.1" x2="303" y2="159.1" stroke="#444" stroke-width="0.6"/><text x="306.2" y="161.9">-1000</text><line x1="301.6" y1="186.8" x2="303" y2="186.8" stroke="#444" stroke-width="0.6"/><text x="306.2" y="189.6">-2000</text></g>
<text x="110.5" y="248" font-family="'Liberation Serif', serif" font-size="17.7" fill="#111" textLength="107" lengthAdjust="spacing">(a) Chebyshev</text>
</g>
<g transform="translate(358,0)">
<g><line x1="142.3" y1="201.6" x2="42.7" y2="150.4" stroke="#eaeaea" stroke-width="0.8"/><line x1="175.03" y1="191.95" x2="75.42" y2="140.75" stroke="#eaeaea" stroke-width="0.8"/><line x1="207.75" y1="182.3" x2="108.15" y2="131.1" stroke="#eaeaea" stroke-width="0.8"/><line x1="240.47" y1="172.65" x2="140.88" y2="121.45" stroke="#eaeaea" stroke-width="0.8"/><line x1="273.2" y1="163" x2="173.6" y2="111.8" stroke="#eaeaea" stroke-width="0.8"/><line x1="140.09" y1="200.46" x2="270.99" y2="161.86" stroke="#eaeaea" stroke-width="0.8"/><line x1="95.82" y1="177.71" x2="226.72" y2="139.11" stroke="#eaeaea" stroke-width="0.8"/><line x1="51.55" y1="154.95" x2="182.45" y2="116.35" stroke="#eaeaea" stroke-width="0.8"/><line x1="75.42" y1="140.75" x2="75.42" y2="29.25" stroke="#eaeaea" stroke-width="0.8"/><line x1="108.15" y1="131.1" x2="108.15" y2="19.6" stroke="#eaeaea" stroke-width="0.8"/><line x1="140.88" y1="121.45" x2="140.88" y2="9.95" stroke="#eaeaea" stroke-width="0.8"/><line x1="173.6" y1="111.8" x2="173.6" y2="0.3" stroke="#eaeaea" stroke-width="0.8"/><line x1="42.7" y1="150.4" x2="173.6" y2="111.8" stroke="#eaeaea" stroke-width="0.8"/><line x1="42.7" y1="128.1" x2="173.6" y2="89.5" stroke="#eaeaea" stroke-width="0.8"/><line x1="42.7" y1="105.8" x2="173.6" y2="67.2" stroke="#eaeaea" stroke-width="0.8"/><line x1="42.7" y1="83.5" x2="173.6" y2="44.9" stroke="#eaeaea" stroke-width="0.8"/><line x1="42.7" y1="61.2" x2="173.6" y2="22.6" stroke="#eaeaea" stroke-width="0.8"/><line x1="42.7" y1="38.9" x2="173.6" y2="0.3" stroke="#eaeaea" stroke-width="0.8"/><line x1="270.99" y1="161.86" x2="270.99" y2="50.36" stroke="#eaeaea" stroke-width="0.8"/><line x1="226.72" y1="139.11" x2="226.72" y2="27.61" stroke="#eaeaea" stroke-width="0.8"/><line x1="182.45" y1="116.35" x2="182.45" y2="4.85" stroke="#eaeaea" stroke-width="0.8"/><line x1="273.2" y1="163" x2="173.6" y2="111.8" stroke="#eaeaea" stroke-width="0.8"/><line x1="273.2" y1="140.7" x2="173.6" y2="89.5" stroke="#eaeaea" stroke-width="0.8"/><line x1="273.2" y1="118.4" x2="173.6" y2="67.2" stroke="#eaeaea" stroke-width="0.8"/><line x1="273.2" y1="96.1" x2="173.6" y2="44.9" stroke="#eaeaea" stroke-width="0.8"/><line x1="273.2" y1="73.8" x2="173.6" y2="22.6" stroke="#eaeaea" stroke-width="0.8"/><line x1="273.2" y1="51.5" x2="173.6" y2="0.3" stroke="#eaeaea" stroke-width="0.8"/></g>
<g><line x1="42.7" y1="150.4" x2="42.7" y2="38.9" stroke="#3a3a3a" stroke-width="0.42"/><line x1="42.7" y1="150.4" x2="142.3" y2="201.6" stroke="#3a3a3a" stroke-width="0.6"/><line x1="142.3" y1="201.6" x2="273.2" y2="163" stroke="#3a3a3a" stroke-width="0.6"/><line x1="42.7" y1="150.4" x2="39.82" y2="148.92" stroke="#3a3a3a" stroke-width="0.6"/><line x1="42.7" y1="128.1" x2="39.82" y2="126.62" stroke="#3a3a3a" stroke-width="0.6"/><line x1="42.7" y1="105.8" x2="39.82" y2="104.32" stroke="#3a3a3a" stroke-width="0.6"/><line x1="42.7" y1="83.5" x2="39.82" y2="82.02" stroke="#3a3a3a" stroke-width="0.6"/><line x1="42.7" y1="61.2" x2="39.82" y2="59.72" stroke="#3a3a3a" stroke-width="0.6"/><line x1="42.7" y1="38.9" x2="39.82" y2="37.42" stroke="#3a3a3a" stroke-width="0.6"/><line x1="140.09" y1="200.46" x2="136.63" y2="201.48" stroke="#3a3a3a" stroke-width="0.6"/><line x1="95.82" y1="177.71" x2="92.37" y2="178.72" stroke="#3a3a3a" stroke-width="0.6"/><line x1="51.55" y1="154.95" x2="48.1" y2="155.97" stroke="#3a3a3a" stroke-width="0.6"/><line x1="142.3" y1="201.6" x2="146.14" y2="203.58" stroke="#3a3a3a" stroke-width="0.6"/><line x1="175.03" y1="191.95" x2="178.87" y2="193.93" stroke="#3a3a3a" stroke-width="0.6"/><line x1="207.75" y1="182.3" x2="211.59" y2="184.28" stroke="#3a3a3a" stroke-width="0.6"/><line x1="240.47" y1="172.65" x2="244.32" y2="174.63" stroke="#3a3a3a" stroke-width="0.6"/><line x1="273.2" y1="163" x2="277.04" y2="164.98" stroke="#3a3a3a" stroke-width="0.6"/></g>
<g><circle cx="63.83" cy="100.25" r="0.54" fill="#259de7"/><circle cx="65.42" cy="99.63" r="0.54" fill="#249de6"/><circle cx="66.88" cy="99.41" r="0.36" fill="#259de7"/><circle cx="68.4" cy="98.87" r="0.37" fill="#259de7"/><circle cx="69.99" cy="98.59" r="0.34" fill="#259ce7"/><circle cx="71.45" cy="97.92" r="0.48" fill="#249de6"/><circle cx="73" cy="97.71" r="0.4" fill="#259ce7"/><circle cx="74.64" cy="97.17" r="0.38" fill="#259ce7"/><circle cx="76.24" cy="96.47" r="0.39" fill="#249de6"/><circle cx="77.93" cy="96.28" r="0.42" fill="#259ce7"/><circle cx="79.57" cy="95.68" r="0.48" fill="#259de7"/><circle cx="81.21" cy="95.16" r="0.52" fill="#259de7"/><circle cx="82.73" cy="94.86" r="0.43" fill="#259ce7"/><circle cx="84.39" cy="94.32" r="0.43" fill="#259ce7"/><circle cx="86.01" cy="93.8" r="0.55" fill="#259ce7"/><circle cx="87.66" cy="93.44" r="0.41" fill="#259ce7"/><circle cx="89.28" cy="92.86" r="0.36" fill="#259ce7"/><circle cx="90.73" cy="92.33" r="0.36" fill="#259de7"/><circle cx="92.24" cy="91.87" r="0.43" fill="#259de7"/><circle cx="93.82" cy="91.48" r="0.51" fill="#259de7"/><circle cx="95.49" cy="91.06" r="0.52" fill="#259ce7"/><circle cx="97.18" cy="90.39" r="0.37" fill="#259de7"/><circle cx="98.68" cy="90.19" r="0.39" fill="#259ce7"/><circle cx="100.12" cy="89.57" r="0.41" fill="#259de7"/><circle cx="103.33" cy="88.79" r="0.34" fill="#259ce7"/><circle cx="105" cy="88.28" r="0.52" fill="#259ce7"/><circle cx="106.65" cy="87.71" r="0.47" fill="#259ce7"/><circle cx="108.11" cy="87.19" r="0.38" fill="#259de7"/><circle cx="109.59" cy="86.79" r="0.36" fill="#259de7"/><circle cx="111.06" cy="86.36" r="0.34" fill="#259de7"/><circle cx="112.72" cy="85.81" r="0.41" fill="#259de7"/><circle cx="114.26" cy="85.33" r="0.52" fill="#259de7"/><circle cx="115.96" cy="84.97" r="0.35" fill="#259ce7"/><circle cx="117.49" cy="84.46" r="0.51" fill="#259de7"/><circle cx="118.97" cy="83.87" r="0.36" fill="#249de6"/><circle cx="120.55" cy="83.61" r="0.45" fill="#259ce7"/><circle cx="122.25" cy="83.09" r="0.41" fill="#259de7"/><circle cx="123.73" cy="82.72" r="0.45" fill="#259ce7"/><circle cx="125.38" cy="82.1" r="0.55" fill="#259de7"/><circle cx="127.04" cy="81.4" r="0.51" fill="#249ee6"/><circle cx="128.67" cy="81.29" r="0.34" fill="#259ce7"/><circle cx="69.14" cy="101.88" r="0.41" fill="#259de7"/><circle cx="70.69" cy="99.2" r="0.88" fill="#20a5e3"/><circle cx="72.29" cy="101.07" r="0.35" fill="#259ce7"/><circle cx="73.99" cy="100.45" r="0.39" fill="#249de6"/><circle cx="77.14" cy="99.67" r="0.4" fill="#259ce7"/><circle cx="78.44" cy="99.11" r="0.39" fill="#259de7"/><circle cx="80.08" cy="98.87" r="0.41" fill="#259ce7"/><circle cx="81.97" cy="98.24" r="0.4" fill="#259ce7"/><circle cx="83.14" cy="97.85" r="0.42" fill="#259ce7"/><circle cx="84.94" cy="97.43" r="0.49" fill="#259ce7"/><circle cx="86.89" cy="96.99" r="0.41" fill="#259ce7"/><circle cx="87.97" cy="96.28" r="0.35" fill="#259ce7"/><circle cx="91.89" cy="94.06" r="0.62" fill="#22a2e4"/><circle cx="94.32" cy="94.23" r="0.33" fill="#249ee6"/><circle cx="95.78" cy="93.95" r="0.36" fill="#259de7"/><circle cx="97.4" cy="93.42" r="0.42" fill="#249de6"/><circle cx="100.93" cy="92.47" r="0.35" fill="#259de7"/><circle cx="102.39" cy="92.37" r="0.46" fill="#259ce7"/><circle cx="103.96" cy="91.5" r="0.44" fill="#259de7"/><circle cx="105.68" cy="90.75" r="0.43" fill="#249ee6"/><circle cx="107.08" cy="90.72" r="0.47" fill="#259ce7"/><circle cx="110.28" cy="89.84" r="0.32" fill="#259ce7"/><circle cx="111.89" cy="89.28" r="0.36" fill="#259de7"/><circle cx="113.26" cy="88.76" r="0.35" fill="#259de7"/><circle cx="115.04" cy="88.33" r="0.39" fill="#259de7"/><circle cx="116.76" cy="88.23" r="0.38" fill="#259ce7"/><circle cx="118.39" cy="87.46" r="0.47" fill="#259de7"/><circle cx="119.89" cy="86.83" r="0.31" fill="#259de7"/><circle cx="121.57" cy="86.61" r="0.47" fill="#259ce7"/><circle cx="123.06" cy="86.07" r="0.33" fill="#259ce7"/><circle cx="126.01" cy="85" r="0.49" fill="#259de7"/><circle cx="127.61" cy="84.82" r="0.34" fill="#259ce7"/><circle cx="129.1" cy="84.19" r="0.38" fill="#259de7"/><circle cx="130.6" cy="83.98" r="0.45" fill="#259ce7"/><circle cx="132.35" cy="83.44" r="0.37" fill="#259ce7"/><circle cx="133.58" cy="80.47" r="0.82" fill="#1fa5e2"/><circle cx="135.64" cy="82.66" r="0.4" fill="#259ce7"/><circle cx="70.58" cy="105.33" r="0.56" fill="#269ae8"/><circle cx="71.93" cy="100.7" r="0.85" fill="#1ca9e0"/><circle cx="76.96" cy="103.05" r="0.49" fill="#259ce7"/><circle cx="79.95" cy="101.56" r="0.67" fill="#249ee6"/><circle cx="81.26" cy="101.2" r="0.35" fill="#249de6"/><circle cx="82.79" cy="101.09" r="0.4" fill="#259ce7"/><circle cx="84.63" cy="100.57" r="0.3" fill="#259ce7"/><circle cx="89.19" cy="99.41" r="0.38" fill="#259ce7"/><circle cx="90.55" cy="98.69" r="0.32" fill="#259de7"/><circle cx="92.15" cy="98.35" r="0.35" fill="#259ce7"/><circle cx="98.83" cy="96.39" r="0.45" fill="#259de7"/><circle cx="100.42" cy="95.73" r="0.31" fill="#259de7"/><circle cx="102.12" cy="95.38" r="0.5" fill="#259ce7"/><circle cx="103.42" cy="94.65" r="0.38" fill="#249ee6"/><circle cx="106.21" cy="93.63" r="0.39" fill="#249ee6"/><circle cx="107.89" cy="93.46" r="0.32" fill="#259de7"/><circle cx="111.28" cy="92.77" r="0.38" fill="#259ce7"/><circle cx="114.27" cy="91.7" r="0.43" fill="#259de7"/><circle cx="115.65" cy="91.36" r="0.49" fill="#259ce7"/><circle cx="117.3" cy="91.13" r="0.44" fill="#259ce7"/><circle cx="118.75" cy="90.55" r="0.47" fill="#259ce7"/><circle cx="120.04" cy="90.36" r="0.33" fill="#259be7"/><circle cx="121.39" cy="89.44" r="0.67" fill="#259ce7"/><circle cx="124.89" cy="88.41" r="0.33" fill="#259de7"/><circle cx="126.75" cy="87.9" r="0.42" fill="#249de6"/><circle cx="127.86" cy="87.59" r="0.36" fill="#259de7"/><circle cx="131.75" cy="86.56" r="0.44" fill="#259de7"/><circle cx="133.1" cy="86.27" r="0.59" fill="#249de6"/><circle cx="134.54" cy="85.78" r="0.44" fill="#259ce7"/><circle cx="136.23" cy="84.98" r="0.34" fill="#249ee6"/><circle cx="137.88" cy="84.62" r="0.36" fill="#259de7"/><circle cx="139.28" cy="84.54" r="0.38" fill="#259ce7"/><circle cx="141.05" cy="83.7" r="0.33" fill="#249de7"/><circle cx="75.45" cy="105.43" r="0.63" fill="#249fe6"/><circle cx="77.3" cy="105.67" r="0.36" fill="#259de7"/><circle cx="79.07" cy="104.9" r="0.52" fill="#249de6"/><circle cx="82.47" cy="104.35" r="0.49" fill="#259ce7"/><circle cx="85.29" cy="99.34" r="0.81" fill="#1baade"/><circle cx="87" cy="102.82" r="0.31" fill="#259de7"/><circle cx="91.71" cy="101.48" r="0.32" fill="#259de7"/><circle cx="93.57" cy="101.16" r="0.43" fill="#259ce7"/><circle cx="94.93" cy="100.78" r="0.47" fill="#259ce7"/><circle cx="96.6" cy="100.24" r="0.56" fill="#259ce7"/><circle cx="98.06" cy="99.78" r="0.5" fill="#259ce7"/><circle cx="99.72" cy="94.73" r="0.98" fill="#1aacdd"/><circle cx="101.16" cy="98.84" r="0.32" fill="#259ce7"/><circle cx="105.73" cy="97.4" r="0.32" fill="#259de7"/><circle cx="107.4" cy="96.96" r="0.33" fill="#259ce7"/><circle cx="108.98" cy="94.43" r="0.81" fill="#21a4e3"/><circle cx="111.91" cy="95.38" r="0.32" fill="#249de6"/><circle cx="113.9" cy="94.86" r="0.38" fill="#249de6"/><circle cx="115.25" cy="94.39" r="0.41" fill="#249de6"/><circle cx="118.44" cy="93.59" r="0.3" fill="#259de7"/><circle cx="120.17" cy="93.21" r="0.48" fill="#259ce7"/><circle cx="121.54" cy="92.99" r="0.32" fill="#259ce7"/><circle cx="123.01" cy="92.41" r="0.36" fill="#259ce7"/><circle cx="124.28" cy="91.66" r="0.34" fill="#249de6"/><circle cx="126.6" cy="90.99" r="0.31" fill="#249ee6"/><circle cx="128.69" cy="88.77" r="0.68" fill="#20a4e3"/><circle cx="129.58" cy="90.13" r="0.34" fill="#249de6"/><circle cx="131.42" cy="89.72" r="0.48" fill="#259de7"/><circle cx="133" cy="89.22" r="0.47" fill="#259de7"/><circle cx="134.77" cy="92.21" r="0.81" fill="#2c90f0"/><circle cx="135.99" cy="88.6" r="0.42" fill="#259ce7"/><circle cx="139.34" cy="87.57" r="0.33" fill="#259ce7"/><circle cx="140.84" cy="87.02" r="0.31" fill="#259de7"/><circle cx="143.94" cy="86.18" r="0.49" fill="#259ce7"/><circle cx="146" cy="82.04" r="0.75" fill="#1ca9df"/><circle cx="79.83" cy="108.16" r="0.34" fill="#259de7"/><circle cx="81.81" cy="107.65" r="0.43" fill="#259ce7"/><circle cx="83.31" cy="107.16" r="0.33" fill="#259de7"/><circle cx="86.29" cy="106.38" r="0.43" fill="#259ce7"/><circle cx="87.94" cy="105.89" r="0.42" fill="#259ce7"/><circle cx="89.54" cy="105.39" r="0.33" fill="#259ce7"/><circle cx="90.76" cy="105.2" r="0.46" fill="#259ce7"/><circle cx="92.37" cy="103.77" r="0.65" fill="#23a0e5"/><circle cx="94.1" cy="103.75" r="0.68" fill="#249ee6"/><circle cx="96.94" cy="103.03" r="0.49" fill="#259de7"/><circle cx="98.37" cy="102.91" r="0.33" fill="#259ce7"/><circle cx="101.82" cy="100.17" r="0.85" fill="#21a3e3"/><circle cx="103.24" cy="101.19" r="0.35" fill="#259de7"/><circle cx="104.65" cy="100.45" r="0.73" fill="#249de6"/><circle cx="107.75" cy="100.18" r="0.34" fill="#259ce7"/><circle cx="109.79" cy="99.4" r="0.45" fill="#259de7"/><circle cx="112.61" cy="98.42" r="0.44" fill="#249de6"/><circle cx="117.15" cy="102.77" r="0.92" fill="#2e86f8"/><circle cx="120.44" cy="95.91" r="0.37" fill="#249ee6"/><circle cx="121.77" cy="95.71" r="0.72" fill="#249de6"/><circle cx="122.92" cy="95.21" r="0.48" fill="#249de6"/><circle cx="126.67" cy="94.2" r="0.32" fill="#249de6"/><circle cx="127.74" cy="95.61" r="0.63" fill="#2896eb"/><circle cx="129.69" cy="93.31" r="0.38" fill="#249de6"/><circle cx="131.43" cy="96.02" r="0.83" fill="#2b90ef"/><circle cx="132.66" cy="92.83" r="0.39" fill="#259ce7"/><circle cx="134.42" cy="91.99" r="0.32" fill="#259de7"/><circle cx="135.64" cy="91.8" r="0.45" fill="#259ce7"/><circle cx="137.21" cy="91.3" r="0.4" fill="#259de7"/><circle cx="140.15" cy="90.14" r="0.44" fill="#249ee6"/><circle cx="141.69" cy="89.92" r="0.46" fill="#259de7"/><circle cx="143.51" cy="89.42" r="0.48" fill="#259ce7"/><circle cx="145.23" cy="89.02" r="0.4" fill="#259de7"/><circle cx="146.47" cy="88.42" r="0.41" fill="#249de6"/><circle cx="148.07" cy="88.15" r="0.47" fill="#259de7"/><circle cx="149.37" cy="87.9" r="0.45" fill="#259ce7"/><circle cx="152.64" cy="86.76" r="0.47" fill="#259ce7"/><circle cx="79.73" cy="111.42" r="0.35" fill="#259de7"/><circle cx="81.08" cy="113.9" r="0.8" fill="#2b92ee"/><circle cx="82.78" cy="110.35" r="0.46" fill="#249de6"/><circle cx="84.35" cy="110.27" r="0.38" fill="#259ce7"/><circle cx="85.13" cy="115.35" r="0.93" fill="#2e86f7"/><circle cx="87.38" cy="108.98" r="0.49" fill="#249de6"/><circle cx="88.56" cy="108.77" r="0.44" fill="#259de7"/><circle cx="90.6" cy="108.5" r="0.34" fill="#259be7"/><circle cx="91.98" cy="107.86" r="0.5" fill="#259ce7"/><circle cx="93.58" cy="107.13" r="0.38" fill="#249de6"/><circle cx="95.24" cy="106.95" r="0.45" fill="#259ce7"/><circle cx="98.32" cy="105.74" r="0.46" fill="#249de6"/><circle cx="99.47" cy="105.58" r="0.49" fill="#259ce7"/><circle cx="102.98" cy="104.66" r="0.47" fill="#259ce7"/><circle cx="104.31" cy="103.84" r="0.35" fill="#249ee6"/><circle cx="106.24" cy="103.98" r="0.66" fill="#259ce7"/><circle cx="107.51" cy="103.08" r="0.49" fill="#249de7"/><circle cx="110.38" cy="102.03" r="0.3" fill="#249de7"/><circle cx="112.38" cy="101.66" r="0.32" fill="#259de7"/><circle cx="114.16" cy="100.93" r="0.46" fill="#249de6"/><circle cx="119.85" cy="95.05" r="0.97" fill="#1aacdd"/><circle cx="121.93" cy="98.82" r="0.4" fill="#259de7"/><circle cx="123.22" cy="98.5" r="0.4" fill="#259de7"/><circle cx="126.42" cy="97.9" r="0.37" fill="#259ce7"/><circle cx="127.84" cy="94.45" r="0.67" fill="#1ea7e1"/><circle cx="129.54" cy="96.46" r="0.4" fill="#249de6"/><circle cx="130.91" cy="96.88" r="0.8" fill="#269ae9"/><circle cx="134.4" cy="95.44" r="0.47" fill="#259ce7"/><circle cx="135.48" cy="94.64" r="0.35" fill="#249ee6"/><circle cx="139.12" cy="93.9" r="0.43" fill="#259ce7"/><circle cx="142.26" cy="92.96" r="0.36" fill="#259de7"/><circle cx="143.62" cy="91.63" r="0.74" fill="#23a0e5"/><circle cx="145.54" cy="94.83" r="0.72" fill="#2a92ee"/><circle cx="147.04" cy="91.4" r="0.45" fill="#259de7"/><circle cx="150.17" cy="90.63" r="0.35" fill="#259ce7"/><circle cx="151.61" cy="90.4" r="0.31" fill="#259ce7"/><circle cx="156.3" cy="88.88" r="0.38" fill="#259de7"/><circle cx="158.16" cy="88.28" r="0.43" fill="#259ce7"/><circle cx="81.33" cy="113.94" r="0.47" fill="#259de7"/><circle cx="82.96" cy="113.75" r="0.33" fill="#259ce7"/><circle cx="85.04" cy="115.94" r="0.77" fill="#2a92ee"/><circle cx="86.26" cy="112.63" r="0.49" fill="#259de7"/><circle cx="87.65" cy="118.93" r="1.12" fill="#2f82fa"/><circle cx="90.43" cy="107.87" r="0.77" fill="#1da9e0"/><circle cx="92.6" cy="110.95" r="0.78" fill="#259ce7"/><circle cx="95.31" cy="109.68" r="0.44" fill="#249de6"/><circle cx="96.96" cy="109.38" r="0.46" fill="#259ce7"/><circle cx="98.58" cy="109.11" r="0.39" fill="#259ce7"/><circle cx="101.99" cy="107.87" r="0.46" fill="#249de7"/><circle cx="105.19" cy="107.19" r="0.34" fill="#259ce7"/><circle cx="106.61" cy="106.43" r="0.41" fill="#259de7"/><circle cx="108.39" cy="105.99" r="0.32" fill="#249de6"/><circle cx="109.81" cy="109.31" r="0.86" fill="#2c8ef1"/><circle cx="113.11" cy="104.56" r="0.39" fill="#259de7"/><circle cx="116.18" cy="103.82" r="0.34" fill="#259ce7"/><circle cx="117.51" cy="103.22" r="0.49" fill="#249de6"/><circle cx="119.36" cy="102.86" r="0.32" fill="#259de7"/><circle cx="120.41" cy="104.57" r="0.76" fill="#2994ed"/><circle cx="122.44" cy="101.5" r="0.31" fill="#249ee6"/><circle cx="125.63" cy="100.89" r="0.43" fill="#259de7"/><circle cx="127.04" cy="100.52" r="0.71" fill="#259ce7"/><circle cx="129.12" cy="100.04" r="0.32" fill="#259ce7"/><circle cx="130.68" cy="99.46" r="0.44" fill="#259de7"/><circle cx="131.81" cy="98.95" r="0.49" fill="#249de7"/><circle cx="133.75" cy="98.88" r="0.32" fill="#259ce7"/><circle cx="135.29" cy="98.3" r="0.4" fill="#259ce7"/><circle cx="136.5" cy="97.84" r="0.44" fill="#259ce7"/><circle cx="138.22" cy="97.3" r="0.35" fill="#259ce7"/><circle cx="139.78" cy="96.94" r="0.36" fill="#259ce7"/><circle cx="141.35" cy="96.21" r="0.34" fill="#249de6"/><circle cx="143.39" cy="95.73" r="0.37" fill="#259de7"/><circle cx="144.87" cy="95.39" r="0.31" fill="#259ce7"/><circle cx="146.2" cy="95" r="0.46" fill="#259ce7"/><circle cx="149.46" cy="94.29" r="0.34" fill="#259ce7"/><circle cx="152.51" cy="93.03" r="0.32" fill="#259de7"/><circle cx="154.12" cy="92.47" r="0.44" fill="#259de7"/><circle cx="155.23" cy="92.37" r="0.45" fill="#259ce7"/><circle cx="160.11" cy="90.42" r="0.4" fill="#249ee6"/><circle cx="163.15" cy="90" r="0.37" fill="#259ce7"/><circle cx="84.7" cy="113.62" r="0.65" fill="#1fa6e2"/><circle cx="86.56" cy="115.49" r="0.32" fill="#249de6"/><circle cx="89.56" cy="114.69" r="0.47" fill="#259de7"/><circle cx="92.94" cy="113.88" r="0.49" fill="#259ce7"/><circle cx="94.35" cy="113.64" r="0.46" fill="#259be8"/><circle cx="96.36" cy="112.95" r="0.4" fill="#259ce7"/><circle cx="97.33" cy="112.49" r="0.41" fill="#259ce7"/><circle cx="99.34" cy="111.83" r="0.33" fill="#259de7"/><circle cx="100.59" cy="107.93" r="0.71" fill="#1caadf"/><circle cx="102.61" cy="111.05" r="0.41" fill="#259ce7"/><circle cx="104.07" cy="110.86" r="0.36" fill="#259be7"/><circle cx="105.14" cy="103.65" r="1.01" fill="#0fb2d5"/><circle cx="107.05" cy="109.59" r="0.36" fill="#259de7"/><circle cx="108.65" cy="109.14" r="0.41" fill="#259de7"/><circle cx="109.98" cy="109.9" r="0.72" fill="#2699e9"/><circle cx="111.44" cy="108.43" r="0.34" fill="#259ce7"/><circle cx="113.46" cy="107.97" r="0.35" fill="#259ce7"/><circle cx="117.61" cy="106.54" r="0.47" fill="#259ce7"/><circle cx="119" cy="105.97" r="0.35" fill="#259de7"/><circle cx="120.71" cy="105.72" r="0.37" fill="#259ce7"/><circle cx="123.8" cy="104.9" r="0.74" fill="#259ce7"/><circle cx="127.14" cy="109.52" r="0.97" fill="#2e86f8"/><circle cx="130.17" cy="105.87" r="0.89" fill="#2b91ef"/><circle cx="131.87" cy="102.27" r="0.36" fill="#249de6"/><circle cx="133.42" cy="101.85" r="0.33" fill="#259de7"/><circle cx="139.39" cy="100.15" r="0.48" fill="#259ce7"/><circle cx="140.72" cy="99.35" r="0.41" fill="#249ee6"/><circle cx="142.46" cy="99.6" r="0.63" fill="#259be8"/><circle cx="144.53" cy="97.04" r="0.71" fill="#21a3e3"/><circle cx="147.56" cy="97.73" r="0.42" fill="#259ce7"/><circle cx="150.33" cy="96.43" r="0.4" fill="#249ee6"/><circle cx="155.23" cy="95.19" r="0.36" fill="#249de6"/><circle cx="156.61" cy="95.03" r="0.37" fill="#259ce7"/><circle cx="158.12" cy="94.45" r="0.46" fill="#259de7"/><circle cx="159.58" cy="93.97" r="0.43" fill="#249de7"/><circle cx="160.96" cy="93.58" r="0.43" fill="#249de6"/><circle cx="162.95" cy="93.02" r="0.45" fill="#259de7"/><circle cx="164.34" cy="92.75" r="0.46" fill="#259de7"/><circle cx="165.79" cy="92.29" r="0.44" fill="#259de7"/><circle cx="86.4" cy="118.72" r="0.46" fill="#259de7"/><circle cx="87.88" cy="118.21" r="0.41" fill="#249de6"/><circle cx="89.58" cy="117.68" r="0.31" fill="#249de6"/><circle cx="91.03" cy="117.33" r="0.35" fill="#259de7"/><circle cx="92.63" cy="116.92" r="0.44" fill="#259de7"/><circle cx="94.28" cy="116.76" r="0.46" fill="#259ce7"/><circle cx="95.74" cy="115.79" r="0.49" fill="#249de6"/><circle cx="97.48" cy="115.66" r="0.44" fill="#259ce7"/><circle cx="99" cy="114.82" r="0.35" fill="#249ee6"/><circle cx="100.68" cy="114.81" r="0.35" fill="#259ce7"/><circle cx="102.25" cy="114.3" r="0.36" fill="#259ce7"/><circle cx="105.28" cy="115.87" r="0.79" fill="#2a93ee"/><circle cx="106.9" cy="112.8" r="0.33" fill="#259de7"/><circle cx="111.78" cy="111.4" r="0.44" fill="#259de7"/><circle cx="113.49" cy="113.34" r="0.71" fill="#2994ed"/><circle cx="115.05" cy="110.14" r="0.45" fill="#249ee6"/><circle cx="116.18" cy="110.03" r="0.34" fill="#259de7"/><circle cx="117.82" cy="109.74" r="0.47" fill="#259ce7"/><circle cx="119.26" cy="109.25" r="0.44" fill="#259ce7"/><circle cx="122.29" cy="108.12" r="0.31" fill="#249de6"/><circle cx="124.12" cy="107.67" r="0.48" fill="#259de7"/><circle cx="125.28" cy="107.23" r="0.36" fill="#259de7"/><circle cx="128.8" cy="103.34" r="0.86" fill="#1ea7e1"/><circle cx="130.47" cy="106.2" r="0.33" fill="#259be7"/><circle cx="133.61" cy="105.03" r="0.49" fill="#259ce7"/><circle cx="135.26" cy="104.55" r="0.34" fill="#259ce7"/><circle cx="136.57" cy="103.11" r="0.63" fill="#23a0e5"/><circle cx="138.78" cy="103.55" r="0.33" fill="#259ce7"/><circle cx="140.08" cy="102.97" r="0.45" fill="#259ce7"/><circle cx="141.47" cy="102.59" r="0.32" fill="#259de7"/><circle cx="143.13" cy="101.86" r="0.36" fill="#249de6"/><circle cx="144.86" cy="101.67" r="0.37" fill="#259ce7"/><circle cx="148.01" cy="100.63" r="0.44" fill="#259de7"/><circle cx="149.13" cy="100.27" r="0.41" fill="#259ce7"/><circle cx="150.77" cy="99.2" r="0.73" fill="#249fe6"/><circle cx="152.08" cy="99.39" r="0.36" fill="#259de7"/><circle cx="157.4" cy="94.99" r="0.73" fill="#1ea8e1"/><circle cx="158.79" cy="97.6" r="0.35" fill="#259ce7"/><circle cx="163.63" cy="95.96" r="0.4" fill="#259de7"/><circle cx="165.12" cy="95.63" r="0.39" fill="#259de7"/><circle cx="166.68" cy="95.18" r="0.34" fill="#259de7"/><circle cx="170.24" cy="94.22" r="0.4" fill="#259ce7"/><circle cx="89.92" cy="120.88" r="0.44" fill="#259de7"/><circle cx="91.61" cy="120.66" r="0.41" fill="#259ce7"/><circle cx="93.02" cy="120.11" r="0.48" fill="#259ce7"/><circle cx="94.93" cy="119.41" r="0.35" fill="#249de6"/><circle cx="96.07" cy="119.13" r="0.32" fill="#259de7"/><circle cx="97.89" cy="118.56" r="0.47" fill="#249de6"/><circle cx="99.36" cy="118.28" r="0.5" fill="#259ce7"/><circle cx="101.27" cy="117.41" r="0.41" fill="#249de6"/><circle cx="102.6" cy="117.29" r="0.35" fill="#259ce7"/><circle cx="104.33" cy="116.7" r="0.39" fill="#259ce7"/><circle cx="105.99" cy="116.39" r="0.48" fill="#259ce7"/><circle cx="107.27" cy="115.77" r="0.47" fill="#259de7"/><circle cx="110.86" cy="114.62" r="0.42" fill="#249de7"/><circle cx="112.32" cy="114.11" r="0.35" fill="#249de6"/><circle cx="114.17" cy="111.36" r="0.63" fill="#20a5e2"/><circle cx="115.67" cy="113.33" r="0.38" fill="#259ce7"/><circle cx="117.33" cy="109.07" r="1" fill="#1baade"/><circle cx="118.41" cy="112.3" r="0.31" fill="#249de6"/><circle cx="120.26" cy="111.63" r="0.4" fill="#249ee6"/><circle cx="123.51" cy="111.12" r="0.48" fill="#259ce7"/><circle cx="124.82" cy="110.72" r="0.39" fill="#259de7"/><circle cx="126.62" cy="110.46" r="0.3" fill="#259ce7"/><circle cx="127.79" cy="109.61" r="0.43" fill="#249de7"/><circle cx="129.36" cy="109.48" r="0.49" fill="#259ce7"/><circle cx="134.77" cy="108.38" r="0.61" fill="#259be8"/><circle cx="135.78" cy="107.5" r="0.65" fill="#259de7"/><circle cx="137.45" cy="106.99" r="0.31" fill="#259ce7"/><circle cx="139.38" cy="106.47" r="0.35" fill="#259ce7"/><circle cx="142.2" cy="105.43" r="0.41" fill="#259de7"/><circle cx="143.86" cy="105.08" r="0.41" fill="#259ce7"/><circle cx="145.16" cy="106.1" r="0.62" fill="#2798ea"/><circle cx="149.84" cy="103.14" r="0.35" fill="#249de7"/><circle cx="151.32" cy="102.77" r="0.63" fill="#259ce7"/><circle cx="152.35" cy="103.31" r="0.74" fill="#2699e9"/><circle cx="154.76" cy="101.61" r="0.33" fill="#249de6"/><circle cx="156.75" cy="100.35" r="0.78" fill="#23a0e5"/><circle cx="158.04" cy="100.98" r="0.31" fill="#259ce7"/><circle cx="159.71" cy="100.59" r="0.35" fill="#259ce7"/><circle cx="161.5" cy="99.8" r="0.5" fill="#259de7"/><circle cx="163.04" cy="99.31" r="0.33" fill="#259de7"/><circle cx="164.58" cy="99.05" r="0.41" fill="#259ce7"/><circle cx="166.09" cy="98.91" r="0.74" fill="#259be8"/><circle cx="169.21" cy="97.87" r="0.36" fill="#259ce7"/><circle cx="171.16" cy="97.36" r="0.45" fill="#259ce7"/><circle cx="172.46" cy="91.02" r="0.82" fill="#14b0d8"/><circle cx="174.28" cy="95.9" r="0.37" fill="#249de6"/><circle cx="91.47" cy="123.45" r="0.35" fill="#259de7"/><circle cx="93.05" cy="122.99" r="0.41" fill="#249de7"/><circle cx="94.93" cy="122.42" r="0.45" fill="#249ee6"/><circle cx="96.38" cy="122.19" r="0.44" fill="#259de7"/><circle cx="102.75" cy="120.42" r="0.47" fill="#259ce7"/><circle cx="104" cy="119.86" r="0.48" fill="#259de7"/><circle cx="105.61" cy="119.24" r="0.44" fill="#249de6"/><circle cx="107.15" cy="117.76" r="0.64" fill="#22a1e4"/><circle cx="108.6" cy="118.81" r="0.35" fill="#259ce7"/><circle cx="113.24" cy="117.13" r="0.34" fill="#249de7"/><circle cx="114.58" cy="116.85" r="0.32" fill="#259ce7"/><circle cx="116.77" cy="116.1" r="0.48" fill="#259de7"/><circle cx="118.04" cy="115.91" r="0.31" fill="#259ce7"/><circle cx="119.54" cy="115.43" r="0.44" fill="#259de7"/><circle cx="121.18" cy="119.84" r="1.03" fill="#2d8af5"/><circle cx="122.59" cy="114.35" r="0.38" fill="#249de6"/><circle cx="124.39" cy="113.92" r="0.42" fill="#259de7"/><circle cx="125.87" cy="113.43" r="0.32" fill="#259de7"/><circle cx="127.35" cy="113.2" r="0.44" fill="#259ce7"/><circle cx="129.07" cy="112.5" r="0.45" fill="#259de7"/><circle cx="132.36" cy="114.5" r="0.77" fill="#2b92ee"/><circle cx="134.02" cy="112.98" r="0.77" fill="#2895ec"/><circle cx="136.8" cy="107.05" r="0.82" fill="#1da8e0"/><circle cx="138.54" cy="109.95" r="0.46" fill="#259ce7"/><circle cx="140.51" cy="109.22" r="0.43" fill="#249de7"/><circle cx="142.02" cy="108.93" r="0.46" fill="#259ce7"/><circle cx="143.54" cy="108.31" r="0.37" fill="#259de7"/><circle cx="145.32" cy="108.27" r="0.44" fill="#259be8"/><circle cx="146.28" cy="106.77" r="0.74" fill="#249fe6"/><circle cx="148.17" cy="106.98" r="0.3" fill="#259ce7"/><circle cx="149.46" cy="106.29" r="0.44" fill="#249de6"/><circle cx="152.85" cy="104.18" r="0.82" fill="#22a2e4"/><circle cx="154.02" cy="105.36" r="0.37" fill="#259ce7"/><circle cx="155.57" cy="106.51" r="0.78" fill="#2896ec"/><circle cx="157.12" cy="105.34" r="0.76" fill="#2699ea"/><circle cx="158.83" cy="103.96" r="0.48" fill="#259ce7"/><circle cx="160.6" cy="103.36" r="0.39" fill="#259de7"/><circle cx="163.55" cy="102.69" r="0.43" fill="#259ce7"/><circle cx="165.12" cy="104.93" r="0.89" fill="#2b91ef"/><circle cx="166.46" cy="101.5" r="0.32" fill="#259de7"/><circle cx="168.16" cy="104.6" r="0.85" fill="#2c8ff1"/><circle cx="169.26" cy="96.92" r="0.76" fill="#1baade"/><circle cx="172.29" cy="99.51" r="0.36" fill="#249de6"/><circle cx="173.97" cy="99.28" r="0.36" fill="#259de7"/><circle cx="175.84" cy="98.95" r="0.34" fill="#259ce7"/><circle cx="177.25" cy="98.54" r="0.37" fill="#259ce7"/><circle cx="97.86" cy="126.94" r="0.67" fill="#2895ec"/><circle cx="99.34" cy="124.35" r="0.46" fill="#259de7"/><circle cx="101.03" cy="124.07" r="0.48" fill="#259ce7"/><circle cx="102.46" cy="122.9" r="0.61" fill="#239fe5"/><circle cx="103.79" cy="123.11" r="0.48" fill="#259ce7"/><circle cx="107.23" cy="121.98" r="0.43" fill="#249de6"/><circle cx="108.46" cy="121.55" r="0.45" fill="#249de6"/><circle cx="115.05" cy="119.96" r="0.4" fill="#259ce7"/><circle cx="118.09" cy="118.93" r="0.32" fill="#259de7"/><circle cx="122.94" cy="123.68" r="1.05" fill="#2e84f9"/><circle cx="124.21" cy="116.99" r="0.45" fill="#259de7"/><circle cx="125.72" cy="116.74" r="0.41" fill="#259ce7"/><circle cx="127.41" cy="116.34" r="0.4" fill="#259ce7"/><circle cx="128.88" cy="115.83" r="0.43" fill="#259ce7"/><circle cx="130.67" cy="115.22" r="0.47" fill="#259de7"/><circle cx="131.97" cy="114.83" r="0.4" fill="#259de7"/><circle cx="133.41" cy="114.45" r="0.41" fill="#259de7"/><circle cx="135.02" cy="113.87" r="0.35" fill="#259de7"/><circle cx="136.46" cy="113.66" r="0.49" fill="#259ce7"/><circle cx="138" cy="113.27" r="0.6" fill="#259be7"/><circle cx="139.95" cy="112.42" r="0.48" fill="#259de7"/><circle cx="141.71" cy="112.87" r="0.61" fill="#269be8"/><circle cx="142.35" cy="116.18" r="1" fill="#2d8bf4"/><circle cx="147.44" cy="110.21" r="0.45" fill="#249de7"/><circle cx="148.84" cy="109.9" r="0.34" fill="#259ce7"/><circle cx="152.24" cy="109.15" r="0.48" fill="#259ce7"/><circle cx="153.84" cy="112.26" r="0.96" fill="#2d8df2"/><circle cx="155.11" cy="107.71" r="0.45" fill="#249ee6"/><circle cx="160.67" cy="103.4" r="0.93" fill="#1da8e0"/><circle cx="166.43" cy="104.68" r="0.34" fill="#259de7"/><circle cx="169.97" cy="103.7" r="0.74" fill="#249de6"/><circle cx="172.8" cy="103.1" r="0.37" fill="#259ce7"/><circle cx="174.57" cy="102.46" r="0.4" fill="#259ce7"/><circle cx="176.06" cy="101.98" r="0.37" fill="#259ce7"/><circle cx="177.52" cy="99.2" r="0.64" fill="#20a4e3"/><circle cx="179.54" cy="98.3" r="0.65" fill="#1fa6e2"/><circle cx="103.41" cy="128.26" r="0.71" fill="#2896eb"/><circle cx="105.55" cy="126.02" r="0.31" fill="#259ce7"/><circle cx="107.18" cy="125.59" r="0.45" fill="#259ce7"/><circle cx="108.59" cy="124.91" r="0.49" fill="#259de7"/><circle cx="109.9" cy="124.5" r="0.31" fill="#259ce7"/><circle cx="111.87" cy="124.1" r="0.41" fill="#259de7"/><circle cx="115.08" cy="122.89" r="0.49" fill="#249de6"/><circle cx="116.42" cy="122.87" r="0.46" fill="#259ce7"/><circle cx="119.67" cy="120.77" r="0.64" fill="#23a0e5"/><circle cx="123.13" cy="120.78" r="0.34" fill="#259ce7"/><circle cx="123.86" cy="120.12" r="0.38" fill="#249de6"/><circle cx="125.8" cy="119.76" r="0.47" fill="#249de6"/><circle cx="127.11" cy="119.63" r="0.45" fill="#259ce7"/><circle cx="129.31" cy="122.9" r="0.89" fill="#2d8df2"/><circle cx="133.38" cy="117.32" r="0.49" fill="#249de6"/><circle cx="134.71" cy="117.18" r="0.38" fill="#259de7"/><circle cx="136.6" cy="119" r="0.81" fill="#2995ec"/><circle cx="139.69" cy="115.89" r="0.37" fill="#259ce7"/><circle cx="141.28" cy="114.99" r="0.43" fill="#249ee6"/><circle cx="142.86" cy="115" r="0.47" fill="#259ce7"/><circle cx="144.53" cy="114.59" r="0.35" fill="#259ce7"/><circle cx="145.58" cy="113.99" r="0.4" fill="#259ce7"/><circle cx="150.57" cy="116.08" r="0.89" fill="#2c8ff1"/><circle cx="153.66" cy="111.47" r="0.44" fill="#259de7"/><circle cx="155.27" cy="112.19" r="0.81" fill="#2699e9"/><circle cx="157.09" cy="110.73" r="0.39" fill="#259de7"/><circle cx="159.68" cy="109.88" r="0.43" fill="#259ce7"/><circle cx="161.28" cy="109.3" r="0.47" fill="#259de7"/><circle cx="164.42" cy="108.58" r="0.38" fill="#259ce7"/><circle cx="165.51" cy="111.54" r="0.78" fill="#2c8ef1"/><circle cx="170.33" cy="107.04" r="0.33" fill="#259be8"/><circle cx="172.27" cy="106.19" r="0.38" fill="#259ce7"/><circle cx="173.76" cy="105.48" r="0.39" fill="#249de7"/><circle cx="175.24" cy="105.48" r="0.49" fill="#259ce7"/><circle cx="176.97" cy="110.51" r="0.84" fill="#2e86f8"/><circle cx="179.21" cy="104.92" r="0.58" fill="#269be8"/><circle cx="179.86" cy="104.12" r="0.34" fill="#259be7"/><circle cx="181.85" cy="103.22" r="0.33" fill="#259de7"/><circle cx="109.45" cy="127.92" r="0.43" fill="#259ce7"/><circle cx="111.24" cy="127.08" r="0.33" fill="#249de6"/><circle cx="112.92" cy="124.32" r="0.76" fill="#1fa5e2"/><circle cx="114.31" cy="126.55" r="0.44" fill="#259ce7"/><circle cx="116.04" cy="125.68" r="0.33" fill="#249de6"/><circle cx="117.24" cy="125.36" r="0.38" fill="#249de7"/><circle cx="119.29" cy="129.91" r="0.81" fill="#2d89f5"/><circle cx="120.74" cy="124.53" r="0.34" fill="#259de7"/><circle cx="123.5" cy="124.01" r="0.3" fill="#259be7"/><circle cx="124.8" cy="122.87" r="0.66" fill="#249de6"/><circle cx="131.45" cy="118.84" r="0.88" fill="#1fa6e2"/><circle cx="132.85" cy="120.78" r="0.45" fill="#259de7"/><circle cx="134.65" cy="120.36" r="0.32" fill="#259de7"/><circle cx="136.06" cy="119.66" r="0.37" fill="#249de6"/><circle cx="139.39" cy="118.87" r="0.36" fill="#249de6"/><circle cx="142.69" cy="118" r="0.44" fill="#259de7"/><circle cx="144.12" cy="117.81" r="0.42" fill="#259ce7"/><circle cx="148.8" cy="116.29" r="0.39" fill="#259ce7"/><circle cx="150.68" cy="115.65" r="0.44" fill="#259ce7"/><circle cx="152.49" cy="115.06" r="0.5" fill="#249de6"/><circle cx="155.58" cy="119.42" r="0.87" fill="#2d88f6"/><circle cx="158.56" cy="113.26" r="0.48" fill="#259de7"/><circle cx="161.94" cy="115.71" r="0.85" fill="#2c90f0"/><circle cx="163.48" cy="109.91" r="0.89" fill="#20a4e3"/><circle cx="164.87" cy="111.84" r="0.36" fill="#259be8"/><circle cx="166.65" cy="108.77" r="0.83" fill="#20a5e2"/><circle cx="168.16" cy="110.71" r="0.35" fill="#259ce7"/><circle cx="169.51" cy="109.92" r="0.42" fill="#249de6"/><circle cx="171.12" cy="109.78" r="0.31" fill="#259ce7"/><circle cx="172.77" cy="109.01" r="0.49" fill="#249de6"/><circle cx="174.15" cy="108.76" r="0.32" fill="#259ce7"/><circle cx="175.94" cy="108.28" r="0.49" fill="#259de7"/><circle cx="180.3" cy="102.9" r="0.71" fill="#1caadf"/><circle cx="181.46" cy="107.42" r="0.61" fill="#2798ea"/><circle cx="183.54" cy="102.09" r="0.78" fill="#1baade"/><circle cx="185.05" cy="105.28" r="0.44" fill="#249de6"/><circle cx="186.72" cy="104.77" r="0.4" fill="#249de6"/><circle cx="120.36" cy="127.53" r="0.34" fill="#249de6"/><circle cx="121.96" cy="127.16" r="0.45" fill="#259de7"/><circle cx="123.19" cy="126.89" r="0.32" fill="#259ce7"/><circle cx="124.86" cy="126.43" r="0.43" fill="#259de7"/><circle cx="126.73" cy="125.93" r="0.68" fill="#259de7"/><circle cx="132.82" cy="124.15" r="0.42" fill="#259ce7"/><circle cx="134.28" cy="123.71" r="0.34" fill="#259ce7"/><circle cx="136.24" cy="123.24" r="0.44" fill="#259ce7"/><circle cx="137.29" cy="123.02" r="0.4" fill="#259be8"/><circle cx="141.85" cy="121.34" r="0.49" fill="#259de7"/><circle cx="143.36" cy="122.16" r="0.83" fill="#2797ea"/><circle cx="145.05" cy="120.49" r="0.41" fill="#259de7"/><circle cx="146.62" cy="120" r="0.33" fill="#259de7"/><circle cx="148.18" cy="119.47" r="0.35" fill="#259de7"/><circle cx="149.56" cy="118.89" r="0.47" fill="#249de6"/><circle cx="151.52" cy="118.59" r="0.31" fill="#259de7"/><circle cx="153.31" cy="118.19" r="0.47" fill="#259ce7"/><circle cx="156.04" cy="117.01" r="0.32" fill="#259de7"/><circle cx="160.84" cy="115.65" r="0.34" fill="#249de6"/><circle cx="162.43" cy="115.46" r="0.4" fill="#259ce7"/><circle cx="164.01" cy="117.57" r="0.64" fill="#2a93ed"/><circle cx="165.84" cy="114.16" r="0.8" fill="#249ee6"/><circle cx="168.67" cy="113.17" r="0.35" fill="#249ee6"/><circle cx="170.24" cy="115.66" r="0.72" fill="#2a92ee"/><circle cx="172.05" cy="112.77" r="0.32" fill="#259ce7"/><circle cx="173.29" cy="112.29" r="0.44" fill="#259ce7"/><circle cx="174.73" cy="111.62" r="0.37" fill="#259de7"/><circle cx="176.76" cy="112.48" r="0.79" fill="#2798ea"/><circle cx="178.38" cy="110.55" r="0.42" fill="#259de7"/><circle cx="179.67" cy="110.53" r="0.3" fill="#259ce7"/><circle cx="181.29" cy="109.62" r="0.44" fill="#249de7"/><circle cx="182.93" cy="108.98" r="0.51" fill="#259de7"/><circle cx="184.78" cy="108.9" r="0.36" fill="#259ce7"/><circle cx="186.06" cy="108.24" r="0.32" fill="#259de7"/><circle cx="187.47" cy="107.29" r="0.64" fill="#239fe5"/><circle cx="189.35" cy="107.29" r="0.31" fill="#259de7"/><circle cx="190.65" cy="106.07" r="0.59" fill="#23a0e5"/><circle cx="121.24" cy="131.8" r="0.75" fill="#2798ea"/><circle cx="122.66" cy="129.9" r="0.39" fill="#249ee6"/><circle cx="124.44" cy="129.69" r="0.37" fill="#259de7"/><circle cx="126.06" cy="129.06" r="0.4" fill="#249de6"/><circle cx="127.6" cy="128.64" r="0.4" fill="#249ee6"/><circle cx="128.83" cy="128" r="0.42" fill="#249ee6"/><circle cx="130.96" cy="127.67" r="0.31" fill="#249de7"/><circle cx="132.05" cy="127.53" r="0.31" fill="#259ce7"/><circle cx="133.83" cy="127.08" r="0.38" fill="#259ce7"/><circle cx="135.01" cy="126.51" r="0.32" fill="#259de7"/><circle cx="138.05" cy="125.6" r="0.45" fill="#259de7"/><circle cx="139.66" cy="125.12" r="0.35" fill="#259de7"/><circle cx="141.3" cy="125.07" r="0.49" fill="#259be7"/><circle cx="142.74" cy="123.26" r="0.83" fill="#23a0e5"/><circle cx="143.99" cy="123.7" r="0.35" fill="#249de6"/><circle cx="147.46" cy="123.01" r="0.34" fill="#259de7"/><circle cx="149.24" cy="122.32" r="0.3" fill="#249de6"/><circle cx="154.08" cy="121.07" r="0.37" fill="#259ce7"/><circle cx="156.62" cy="118.3" r="0.81" fill="#21a2e4"/><circle cx="160.52" cy="119.41" r="0.64" fill="#259be8"/><circle cx="161.58" cy="118.68" r="0.46" fill="#259ce7"/><circle cx="166.91" cy="112.67" r="0.92" fill="#19addc"/><circle cx="169.91" cy="116.2" r="0.37" fill="#259de7"/><circle cx="171.25" cy="115.74" r="0.31" fill="#259de7"/><circle cx="173.28" cy="115.34" r="0.38" fill="#249de7"/><circle cx="174.7" cy="121.66" r="1.1" fill="#2f82fa"/><circle cx="176.25" cy="114.19" r="0.42" fill="#249ee6"/><circle cx="177.57" cy="113.89" r="0.34" fill="#249de6"/><circle cx="179.54" cy="111.87" r="0.86" fill="#22a2e4"/><circle cx="180.98" cy="110.7" r="0.87" fill="#20a5e2"/><circle cx="183.21" cy="115.32" r="0.72" fill="#2a92ee"/><circle cx="183.67" cy="112.32" r="0.34" fill="#259ce7"/><circle cx="185.38" cy="111.58" r="0.41" fill="#249de6"/><circle cx="188.81" cy="110.78" r="0.48" fill="#259de7"/><circle cx="190.41" cy="110.3" r="0.48" fill="#259ce7"/><circle cx="127" cy="132.42" r="0.37" fill="#259be7"/><circle cx="128.82" cy="131.7" r="0.38" fill="#259ce7"/><circle cx="130.43" cy="131.02" r="0.36" fill="#259de7"/><circle cx="131.57" cy="130.72" r="0.49" fill="#259de7"/><circle cx="133.3" cy="130.19" r="0.33" fill="#259ce7"/><circle cx="135.01" cy="129.58" r="0.37" fill="#249de7"/><circle cx="136.82" cy="128.86" r="0.41" fill="#249de6"/><circle cx="138.57" cy="128.69" r="0.43" fill="#259de7"/><circle cx="139.85" cy="128.47" r="0.45" fill="#259ce7"/><circle cx="143.45" cy="128.07" r="0.65" fill="#269ae9"/><circle cx="144.8" cy="126.52" r="0.46" fill="#249ee6"/><circle cx="146.4" cy="126.37" r="0.37" fill="#259de7"/><circle cx="149.54" cy="125.5" r="0.42" fill="#259ce7"/><circle cx="151.17" cy="125.11" r="0.37" fill="#259ce7"/><circle cx="152.36" cy="124.51" r="0.44" fill="#259de7"/><circle cx="155.26" cy="123.61" r="0.31" fill="#259de7"/><circle cx="158.76" cy="122.69" r="0.49" fill="#259de7"/><circle cx="162.04" cy="121.8" r="0.47" fill="#259de7"/><circle cx="163.67" cy="121.22" r="0.3" fill="#259de7"/><circle cx="165.01" cy="121.15" r="0.34" fill="#259ce7"/><circle cx="166.76" cy="120.19" r="0.38" fill="#249de6"/><circle cx="170.1" cy="119.2" r="0.34" fill="#249de7"/><circle cx="171.83" cy="119.21" r="0.31" fill="#259ce7"/><circle cx="173.27" cy="118.37" r="0.48" fill="#249de7"/><circle cx="178.07" cy="116.82" r="0.44" fill="#259de7"/><circle cx="179.89" cy="116.54" r="0.3" fill="#259de7"/><circle cx="181.04" cy="116" r="0.49" fill="#259de7"/><circle cx="182.75" cy="115.58" r="0.38" fill="#259ce7"/><circle cx="187.7" cy="114.1" r="0.42" fill="#259de7"/><circle cx="189.62" cy="113.27" r="0.48" fill="#249ee6"/><circle cx="191.01" cy="113.25" r="0.48" fill="#259de7"/><circle cx="192.83" cy="112.72" r="0.46" fill="#259ce7"/><circle cx="195.81" cy="112.81" r="0.57" fill="#269ae9"/><circle cx="197.92" cy="111.5" r="0.62" fill="#259ce7"/><circle cx="199.07" cy="111.22" r="0.45" fill="#259ce7"/><circle cx="157.13" cy="126.42" r="0.39" fill="#259de7"/><circle cx="158.28" cy="126.06" r="0.38" fill="#259ce7"/><circle cx="159.83" cy="125.41" r="0.35" fill="#259de7"/><circle cx="161.44" cy="123.48" r="0.87" fill="#22a2e4"/><circle cx="164.87" cy="124.06" r="0.36" fill="#259de7"/><circle cx="166.18" cy="123.84" r="0.49" fill="#259ce7"/><circle cx="168.01" cy="125.82" r="0.9" fill="#2a93ee"/><circle cx="169.52" cy="122.56" r="0.49" fill="#249de7"/><circle cx="171.21" cy="122.09" r="0.4" fill="#259de7"/><circle cx="172.68" cy="114.67" r="1.11" fill="#0ab4d2"/><circle cx="175.49" cy="120.85" r="0.3" fill="#259de7"/><circle cx="179.02" cy="119.71" r="0.32" fill="#249de6"/><circle cx="180.68" cy="119.46" r="0.36" fill="#259ce7"/><circle cx="181.84" cy="118.85" r="0.32" fill="#249de6"/><circle cx="184.12" cy="118.57" r="0.43" fill="#259ce7"/><circle cx="185.84" cy="116.22" r="0.77" fill="#21a3e3"/><circle cx="186.85" cy="117.24" r="0.33" fill="#249ee6"/><circle cx="188.58" cy="117.35" r="0.41" fill="#259ce7"/><circle cx="189.81" cy="116.49" r="0.38" fill="#249de7"/><circle cx="192.95" cy="115.93" r="0.37" fill="#259ce7"/><circle cx="196.08" cy="114.99" r="0.48" fill="#259ce7"/><circle cx="197.69" cy="114.47" r="0.43" fill="#259de7"/><circle cx="200.35" cy="113.4" r="0.36" fill="#259de7"/><circle cx="202.24" cy="112.96" r="0.32" fill="#259de7"/><circle cx="203.64" cy="115.94" r="0.84" fill="#2c90f0"/><circle cx="181.63" cy="125.28" r="0.68" fill="#2b91ef"/><circle cx="191.09" cy="119.44" r="0.4" fill="#259de7"/><circle cx="192.81" cy="119.15" r="0.36" fill="#259ce7"/><circle cx="193.95" cy="118.78" r="0.68" fill="#259be8"/><circle cx="197.45" cy="117.46" r="0.38" fill="#249de6"/><circle cx="200.47" cy="114.44" r="0.76" fill="#20a5e3"/><circle cx="202.51" cy="116.07" r="0.74" fill="#249de6"/><circle cx="203.77" cy="119.23" r="0.72" fill="#2c8ff1"/><circle cx="205.21" cy="115.5" r="0.46" fill="#259ce7"/><circle cx="208.51" cy="114.12" r="0.37" fill="#249de6"/><circle cx="189.86" cy="122.91" r="0.46" fill="#259de7"/><circle cx="192.27" cy="122.37" r="0.45" fill="#259ce7"/><circle cx="194.15" cy="121.67" r="0.32" fill="#259de7"/><circle cx="195.82" cy="121.24" r="0.36" fill="#259de7"/><circle cx="197.42" cy="120.92" r="0.37" fill="#259ce7"/><circle cx="199.08" cy="120.42" r="0.37" fill="#259ce7"/><circle cx="200.68" cy="119.71" r="0.32" fill="#249de6"/><circle cx="202.03" cy="119.5" r="0.47" fill="#259ce7"/><circle cx="203.96" cy="118.95" r="0.43" fill="#259ce7"/><circle cx="205.13" cy="118.6" r="0.46" fill="#259ce7"/><circle cx="207.53" cy="116.96" r="0.76" fill="#23a0e5"/><circle cx="208.5" cy="117.75" r="0.33" fill="#259ce7"/><circle cx="210.03" cy="118.64" r="0.74" fill="#2797eb"/><circle cx="211.51" cy="116.38" r="0.42" fill="#249de6"/><circle cx="212.95" cy="116.37" r="0.41" fill="#259ce7"/><circle cx="214.61" cy="115.47" r="0.45" fill="#249de6"/><circle cx="217.91" cy="114.64" r="0.49" fill="#259de7"/><circle cx="189.99" cy="126.26" r="0.37" fill="#259de7"/><circle cx="191.82" cy="125.49" r="0.39" fill="#249de6"/><circle cx="192.97" cy="125.69" r="0.77" fill="#259be8"/><circle cx="194.65" cy="124.88" r="0.34" fill="#259ce7"/><circle cx="196.04" cy="124.35" r="0.47" fill="#259de7"/><circle cx="197.64" cy="123.8" r="0.47" fill="#259de7"/><circle cx="199.53" cy="123.54" r="0.43" fill="#259ce7"/><circle cx="200.83" cy="122.95" r="0.34" fill="#259ce7"/><circle cx="202.34" cy="122.51" r="0.42" fill="#259ce7"/><circle cx="203.9" cy="122.26" r="0.3" fill="#259ce7"/><circle cx="205.17" cy="122.45" r="0.72" fill="#2699e9"/><circle cx="206.86" cy="124.84" r="0.82" fill="#2c8ef1"/><circle cx="208.61" cy="120.9" r="0.68" fill="#259ce7"/><circle cx="211.76" cy="119.64" r="0.32" fill="#249de7"/><circle cx="213.35" cy="119.32" r="0.37" fill="#259de7"/><circle cx="214.69" cy="118.72" r="0.32" fill="#249de6"/><circle cx="216.43" cy="118.64" r="0.31" fill="#259ce7"/><circle cx="218.16" cy="117.9" r="0.49" fill="#259de7"/><circle cx="219.5" cy="117.82" r="0.67" fill="#269be8"/><circle cx="221.16" cy="117.07" r="0.39" fill="#259ce7"/><circle cx="224.32" cy="116.04" r="0.48" fill="#259ce7"/><circle cx="193.67" cy="128.47" r="0.31" fill="#259ce7"/><circle cx="195.18" cy="126.14" r="0.61" fill="#21a3e4"/><circle cx="196.54" cy="128.52" r="0.71" fill="#2798ea"/><circle cx="198.03" cy="126.8" r="0.32" fill="#259de7"/><circle cx="201.35" cy="125.89" r="0.31" fill="#259de7"/><circle cx="202.85" cy="125.56" r="0.42" fill="#259ce7"/><circle cx="204.01" cy="125.77" r="0.69" fill="#269ae8"/><circle cx="205.76" cy="122.46" r="0.71" fill="#20a5e3"/><circle cx="207.61" cy="124.17" r="0.4" fill="#259de7"/><circle cx="208.64" cy="123.57" r="0.48" fill="#259de7"/><circle cx="212.01" cy="122.58" r="0.34" fill="#259de7"/><circle cx="214.05" cy="122.2" r="0.32" fill="#259de7"/><circle cx="215.58" cy="126.03" r="0.77" fill="#2d8cf3"/><circle cx="216.79" cy="122.37" r="0.59" fill="#2798ea"/><circle cx="218.76" cy="120.99" r="0.45" fill="#259ce7"/><circle cx="220.55" cy="120.43" r="0.34" fill="#259ce7"/><circle cx="224.76" cy="114.87" r="1" fill="#1aabdd"/><circle cx="226.67" cy="118.3" r="0.37" fill="#249ee6"/><circle cx="228.34" cy="116.46" r="0.65" fill="#22a2e4"/><circle cx="229.09" cy="116.8" r="0.79" fill="#249fe5"/><circle cx="231.11" cy="117.16" r="0.39" fill="#259de7"/><circle cx="195.8" cy="130.53" r="0.4" fill="#259de7"/><circle cx="197.62" cy="130.06" r="0.33" fill="#259de7"/><circle cx="199.17" cy="129.71" r="0.3" fill="#259de7"/><circle cx="200.81" cy="129.05" r="0.42" fill="#249de6"/><circle cx="202.46" cy="128.6" r="0.43" fill="#249de6"/><circle cx="205.82" cy="127.79" r="0.31" fill="#259de7"/><circle cx="208.74" cy="124.87" r="0.61" fill="#21a4e3"/><circle cx="210.55" cy="126.52" r="0.4" fill="#259ce7"/><circle cx="214.23" cy="125.37" r="0.42" fill="#259de7"/><circle cx="215.13" cy="124.71" r="0.36" fill="#249de6"/><circle cx="216.96" cy="124.56" r="0.42" fill="#259ce7"/><circle cx="218.41" cy="129.67" r="1" fill="#2e86f8"/><circle cx="220.27" cy="123.62" r="0.39" fill="#259ce7"/><circle cx="221.91" cy="125.41" r="0.85" fill="#2a93ed"/><circle cx="226.36" cy="122.09" r="0.6" fill="#259be8"/><circle cx="227.95" cy="121.2" r="0.42" fill="#259ce7"/><circle cx="229.72" cy="120.73" r="0.4" fill="#259ce7"/><circle cx="231.36" cy="120.41" r="0.49" fill="#259ce7"/><circle cx="236.18" cy="118.75" r="0.49" fill="#259de7"/><circle cx="237.66" cy="118.34" r="0.42" fill="#259ce7"/><circle cx="239.25" cy="117.73" r="0.46" fill="#249de6"/><circle cx="203.27" cy="133.59" r="0.69" fill="#2895ec"/><circle cx="204.66" cy="131.4" r="0.47" fill="#259ce7"/><circle cx="207.8" cy="130.59" r="0.35" fill="#259ce7"/><circle cx="209.72" cy="128.89" r="0.68" fill="#23a0e5"/><circle cx="212.71" cy="128.61" r="0.45" fill="#249de6"/><circle cx="214.04" cy="128.55" r="0.36" fill="#259ce7"/><circle cx="217.67" cy="127.41" r="0.48" fill="#259de7"/><circle cx="222.13" cy="126.21" r="0.47" fill="#259ce7"/><circle cx="223.8" cy="125.33" r="0.45" fill="#259de7"/><circle cx="225.13" cy="125.04" r="0.38" fill="#249ee6"/><circle cx="227.18" cy="124.31" r="0.68" fill="#249ee6"/><circle cx="228.57" cy="124.25" r="0.37" fill="#259ce7"/><circle cx="230.61" cy="125.81" r="0.71" fill="#2995ec"/><circle cx="232.11" cy="123.12" r="0.34" fill="#259de7"/><circle cx="235.14" cy="122.24" r="0.41" fill="#259de7"/><circle cx="237.19" cy="122.26" r="0.64" fill="#259be8"/><circle cx="238.07" cy="121.52" r="0.34" fill="#259ce7"/><circle cx="239.5" cy="120.45" r="0.61" fill="#249ee6"/><circle cx="241.13" cy="120.49" r="0.44" fill="#259de7"/><circle cx="242.51" cy="116.24" r="0.86" fill="#1ca9df"/><circle cx="244.31" cy="119.57" r="0.37" fill="#259ce7"/><circle cx="246" cy="118.86" r="0.47" fill="#249ee6"/><circle cx="247.32" cy="118.76" r="0.44" fill="#259de7"/><circle cx="204.74" cy="134.15" r="0.49" fill="#249de6"/><circle cx="206.21" cy="133.74" r="0.48" fill="#259de7"/><circle cx="207.69" cy="133.4" r="0.48" fill="#259de7"/><circle cx="209.38" cy="132.99" r="0.35" fill="#259de7"/><circle cx="210.82" cy="132.72" r="0.45" fill="#259ce7"/><circle cx="214.11" cy="131.66" r="0.48" fill="#259de7"/><circle cx="217.39" cy="131.82" r="0.72" fill="#2699e9"/><circle cx="218.47" cy="132.45" r="0.92" fill="#2994ed"/><circle cx="220.18" cy="129.51" r="0.32" fill="#249de6"/><circle cx="223.63" cy="126.82" r="0.86" fill="#20a5e2"/><circle cx="224.27" cy="128.38" r="0.49" fill="#259de7"/><circle cx="226.15" cy="128.33" r="0.32" fill="#259be7"/><circle cx="228.05" cy="131.27" r="1.01" fill="#2d8df2"/><circle cx="229.27" cy="127.03" r="0.45" fill="#259ce7"/><circle cx="234.16" cy="125.59" r="0.31" fill="#249de7"/><circle cx="235.56" cy="119.28" r="1.11" fill="#13b0d7"/><circle cx="237.17" cy="123.08" r="0.87" fill="#21a3e4"/><circle cx="239.17" cy="123.82" r="0.35" fill="#249ee6"/><circle cx="241.25" cy="123.7" r="0.55" fill="#259de7"/><circle cx="242.65" cy="123.53" r="0.3" fill="#259be7"/><circle cx="244.39" cy="122.74" r="0.49" fill="#259de7"/><circle cx="245.58" cy="124.06" r="0.75" fill="#2896eb"/><circle cx="247.19" cy="121.84" r="0.35" fill="#259ce7"/><circle cx="248.72" cy="121.2" r="0.4" fill="#249de6"/><circle cx="250.36" cy="120.86" r="0.36" fill="#259de7"/><circle cx="255.49" cy="121.23" r="0.65" fill="#2796eb"/><circle cx="211.39" cy="135.76" r="0.35" fill="#259ce7"/><circle cx="212.64" cy="135.6" r="0.44" fill="#259be8"/><circle cx="214.32" cy="134.8" r="0.74" fill="#259de7"/><circle cx="217.33" cy="133.83" r="0.35" fill="#259ce7"/><circle cx="218.94" cy="133.46" r="0.37" fill="#259ce7"/><circle cx="221.95" cy="126.89" r="0.91" fill="#14b0d8"/><circle cx="223.68" cy="133.02" r="0.66" fill="#2699ea"/><circle cx="225.42" cy="131.54" r="0.48" fill="#259ce7"/><circle cx="226.78" cy="130.98" r="0.46" fill="#259de7"/><circle cx="230" cy="130.09" r="0.37" fill="#259de7"/><circle cx="231.59" cy="129.59" r="0.38" fill="#249de6"/><circle cx="236.27" cy="128.88" r="0.79" fill="#259be8"/><circle cx="237.54" cy="127.6" r="0.34" fill="#249de6"/><circle cx="239.11" cy="127.08" r="0.39" fill="#249ee6"/><circle cx="242.16" cy="126.37" r="0.35" fill="#259de7"/><circle cx="245.28" cy="126.81" r="0.59" fill="#2798ea"/><circle cx="248.84" cy="124.42" r="0.35" fill="#249de7"/><circle cx="250.02" cy="123.96" r="0.47" fill="#249de6"/><circle cx="253.54" cy="123.16" r="0.34" fill="#249de6"/><circle cx="254.64" cy="123.1" r="0.82" fill="#259be8"/><circle cx="256.44" cy="122.23" r="0.39" fill="#259de7"/><circle cx="120.7" cy="54.7" r="1.85" fill="#fcbc3d"/><circle cx="159.7" cy="55.2" r="1.95" fill="#f7f41c"/><circle cx="150.3" cy="67.6" r="1.75" fill="#dcbd29"/><circle cx="150.8" cy="74.4" r="1.6" fill="#c0c32d"/><circle cx="157.9" cy="78.5" r="1.3" fill="#54cc7c"/><circle cx="170.4" cy="76.6" r="1.6" fill="#d0bf27"/><circle cx="184.6" cy="85.3" r="1.5" fill="#a9c73a"/><circle cx="127.5" cy="81.3" r="1.5" fill="#28c3aa"/><circle cx="129.3" cy="82" r="1.2" fill="#16bfb7"/><circle cx="166.8" cy="91" r="1.2" fill="#3fca8e"/><circle cx="173.8" cy="92.1" r="1.2" fill="#33c69d"/><circle cx="176" cy="100" r="1" fill="#03bbc3"/><circle cx="204.8" cy="99.3" r="1.3" fill="#21c1b1"/><circle cx="211.9" cy="106.1" r="1.1" fill="#0bbdbd"/><circle cx="218.7" cy="108.7" r="1.1" fill="#0bbdbd"/><circle cx="175.2" cy="99.8" r="1" fill="#05b6ce"/><circle cx="191.5" cy="113.2" r="1" fill="#01b8c8"/><circle cx="161.8" cy="136.3" r="1.7" fill="#3f29af"/><circle cx="164.5" cy="132.4" r="1.4" fill="#4230c3"/><circle cx="172.3" cy="127.7" r="1.4" fill="#4433cd"/><circle cx="177.8" cy="129.5" r="1.4" fill="#4433cd"/><circle cx="182.5" cy="129.2" r="1.3" fill="#4537d6"/><circle cx="188.8" cy="128.2" r="1.3" fill="#463bdd"/><circle cx="123.1" cy="116.2" r="1.5" fill="#4854f5"/><circle cx="155" cy="120.3" r="1.3" fill="#484aee"/><circle cx="156" cy="123.2" r="1.3" fill="#484aee"/><circle cx="125.2" cy="108.6" r="1.1" fill="#465efb"/><circle cx="153.2" cy="110.4" r="1.1" fill="#465efb"/><circle cx="148" cy="114.3" r="1.1" fill="#4562fc"/><circle cx="203.6" cy="142.4" r="1.3" fill="#4854f5"/><circle cx="253.8" cy="119" r="0.9" fill="#2f82fa"/><circle cx="251.7" cy="130.7" r="0.9" fill="#3b72ff"/></g>
<g font-size="9.2" fill="#262626" stroke="#262626" stroke-width="0.1"><text x="36.9" y="151.6" text-anchor="end">-4000</text><text x="36.9" y="129.3" text-anchor="end">-2000</text><text x="36.9" y="107" text-anchor="end">0</text><text x="36.9" y="84.7" text-anchor="end">2000</text><text x="36.9" y="62.4" text-anchor="end">4000</text><text x="36.9" y="40.1" text-anchor="end">6000</text><text x="133.59" y="212.16" text-anchor="end">796</text><text x="89.32" y="189.41" text-anchor="end">797</text><text x="45.05" y="166.65" text-anchor="end">798</text><text x="148.9" y="214.5">614</text><text x="181.62" y="204.85">614.5</text><text x="214.35" y="195.2">615</text><text x="247.07" y="185.55">615.5</text><text x="279.8" y="175.9">616</text></g>
<g font-size="10.3" fill="#262626" stroke="#262626" stroke-width="0.12">
<text x="31.1" y="214.9">Easting (km)</text>
<text x="214.2" y="217.6">Northing (km)</text>
<text transform="translate(7.8,95.3) rotate(-90)" text-anchor="middle">Validation Error (ppm)</text>
</g>
<rect x="292.6" y="0.4" width="10.5" height="202.1" fill="url(#cb)" stroke="#262626" stroke-opacity="0.3" stroke-width="0.6"/>
<rect x="291.7" y="0" width="0.7" height="203" fill="#fff"/>
<line x1="292.3" y1="0.4" x2="303.4" y2="0.4" stroke="#262626" stroke-opacity="0.45" stroke-width="0.8"/>
<g font-size="8.35" fill="#262626" stroke="#262626" stroke-width="0.08"><line x1="301.6" y1="20.6" x2="303" y2="20.6" stroke="#444" stroke-width="0.6"/><text x="306.2" y="23.4">4000</text><line x1="301.6" y1="48.3" x2="303" y2="48.3" stroke="#444" stroke-width="0.6"/><text x="306.2" y="51.1">3000</text><line x1="301.6" y1="76" x2="303" y2="76" stroke="#444" stroke-width="0.6"/><text x="306.2" y="78.8">2000</text><line x1="301.6" y1="103.7" x2="303" y2="103.7" stroke="#444" stroke-width="0.6"/><text x="306.2" y="106.5">1000</text><line x1="301.6" y1="131.4" x2="303" y2="131.4" stroke="#444" stroke-width="0.6"/><text x="306.2" y="134.2">0</text><line x1="301.6" y1="159.1" x2="303" y2="159.1" stroke="#444" stroke-width="0.6"/><text x="306.2" y="161.9">-1000</text><line x1="301.6" y1="186.8" x2="303" y2="186.8" stroke="#444" stroke-width="0.6"/><text x="306.2" y="189.6">-2000</text></g>
<text x="108.4" y="248" font-family="'Liberation Serif', serif" font-size="17.7" fill="#111" textLength="110.6" lengthAdjust="spacing">(b) Manhattan</text>
</g>
</svg>
</body></html>
